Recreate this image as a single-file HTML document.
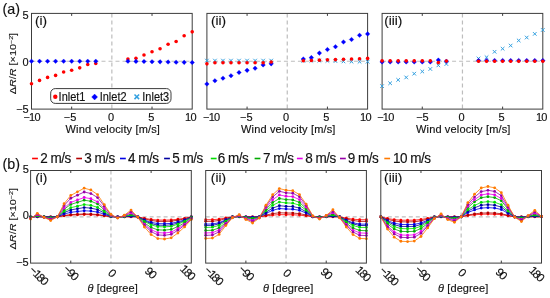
<!DOCTYPE html>
<html><head><meta charset="utf-8"><style>
html,body{margin:0;padding:0;background:#fff;overflow:hidden;}
svg{display:block;font-family:"Liberation Sans", sans-serif;will-change:transform;}
</style></head><body>
<svg width="550" height="298" viewBox="0 0 550 298" fill="#111">
<rect width="550" height="298" fill="#fff"/>
<line x1="111.85" y1="13.40" x2="111.85" y2="109.10" stroke="#bdbdbd" stroke-width="1.2" stroke-dasharray="4 3"/>
<line x1="31.50" y1="61.25" x2="192.20" y2="61.25" stroke="#bdbdbd" stroke-width="1.2" stroke-dasharray="4 3"/>
<rect x="31.50" y="13.40" width="160.70" height="95.70" fill="none" stroke="#3c3c3c" stroke-width="1.0"/>
<line x1="71.67" y1="109.10" x2="71.67" y2="106.60" stroke="#3c3c3c" stroke-width="1.0"/>
<line x1="71.67" y1="13.40" x2="71.67" y2="15.90" stroke="#3c3c3c" stroke-width="1.0"/>
<line x1="152.02" y1="109.10" x2="152.02" y2="106.60" stroke="#3c3c3c" stroke-width="1.0"/>
<line x1="152.02" y1="13.40" x2="152.02" y2="15.90" stroke="#3c3c3c" stroke-width="1.0"/>
<circle cx="31.50" cy="83.74" r="1.8" fill="#ff0000"/>
<circle cx="39.53" cy="80.39" r="1.8" fill="#ff0000"/>
<circle cx="47.57" cy="77.42" r="1.8" fill="#ff0000"/>
<circle cx="55.60" cy="75.41" r="1.8" fill="#ff0000"/>
<circle cx="63.64" cy="72.06" r="1.8" fill="#ff0000"/>
<circle cx="71.67" cy="70.25" r="1.8" fill="#ff0000"/>
<circle cx="79.71" cy="67.85" r="1.8" fill="#ff0000"/>
<circle cx="87.74" cy="64.50" r="1.8" fill="#ff0000"/>
<circle cx="95.78" cy="63.55" r="1.8" fill="#ff0000"/>
<circle cx="127.92" cy="58.95" r="1.8" fill="#ff0000"/>
<circle cx="135.95" cy="58.28" r="1.8" fill="#ff0000"/>
<circle cx="143.99" cy="55.03" r="1.8" fill="#ff0000"/>
<circle cx="152.02" cy="51.78" r="1.8" fill="#ff0000"/>
<circle cx="160.06" cy="48.71" r="1.8" fill="#ff0000"/>
<circle cx="168.09" cy="44.22" r="1.8" fill="#ff0000"/>
<circle cx="176.13" cy="41.44" r="1.8" fill="#ff0000"/>
<circle cx="184.16" cy="35.79" r="1.8" fill="#ff0000"/>
<circle cx="192.20" cy="31.87" r="1.8" fill="#ff0000"/>
<path d="M31.50 58.95L33.80 61.25L31.50 63.55L29.20 61.25Z" fill="#0000ff" stroke="#0000ff" stroke-width="0.3" stroke-linejoin="round"/>
<path d="M39.53 58.95L41.83 61.25L39.53 63.55L37.23 61.25Z" fill="#0000ff" stroke="#0000ff" stroke-width="0.3" stroke-linejoin="round"/>
<path d="M47.57 58.95L49.87 61.25L47.57 63.55L45.27 61.25Z" fill="#0000ff" stroke="#0000ff" stroke-width="0.3" stroke-linejoin="round"/>
<path d="M55.60 58.95L57.90 61.25L55.60 63.55L53.30 61.25Z" fill="#0000ff" stroke="#0000ff" stroke-width="0.3" stroke-linejoin="round"/>
<path d="M63.64 58.95L65.94 61.25L63.64 63.55L61.34 61.25Z" fill="#0000ff" stroke="#0000ff" stroke-width="0.3" stroke-linejoin="round"/>
<path d="M71.67 58.95L73.97 61.25L71.67 63.55L69.38 61.25Z" fill="#0000ff" stroke="#0000ff" stroke-width="0.3" stroke-linejoin="round"/>
<path d="M79.71 58.95L82.01 61.25L79.71 63.55L77.41 61.25Z" fill="#0000ff" stroke="#0000ff" stroke-width="0.3" stroke-linejoin="round"/>
<path d="M87.74 58.95L90.04 61.25L87.74 63.55L85.44 61.25Z" fill="#0000ff" stroke="#0000ff" stroke-width="0.3" stroke-linejoin="round"/>
<path d="M95.78 58.95L98.08 61.25L95.78 63.55L93.48 61.25Z" fill="#0000ff" stroke="#0000ff" stroke-width="0.3" stroke-linejoin="round"/>
<path d="M127.92 58.95L130.22 61.25L127.92 63.55L125.62 61.25Z" fill="#0000ff" stroke="#0000ff" stroke-width="0.3" stroke-linejoin="round"/>
<path d="M135.95 59.11L138.25 61.41L135.95 63.71L133.65 61.41Z" fill="#0000ff" stroke="#0000ff" stroke-width="0.3" stroke-linejoin="round"/>
<path d="M143.99 59.26L146.29 61.56L143.99 63.86L141.69 61.56Z" fill="#0000ff" stroke="#0000ff" stroke-width="0.3" stroke-linejoin="round"/>
<path d="M152.02 59.42L154.32 61.72L152.02 64.02L149.72 61.72Z" fill="#0000ff" stroke="#0000ff" stroke-width="0.3" stroke-linejoin="round"/>
<path d="M160.06 59.57L162.36 61.87L160.06 64.17L157.76 61.87Z" fill="#0000ff" stroke="#0000ff" stroke-width="0.3" stroke-linejoin="round"/>
<path d="M168.09 59.73L170.40 62.03L168.09 64.33L165.79 62.03Z" fill="#0000ff" stroke="#0000ff" stroke-width="0.3" stroke-linejoin="round"/>
<path d="M176.13 59.88L178.43 62.18L176.13 64.48L173.83 62.18Z" fill="#0000ff" stroke="#0000ff" stroke-width="0.3" stroke-linejoin="round"/>
<path d="M184.16 60.04L186.47 62.34L184.16 64.64L181.86 62.34Z" fill="#0000ff" stroke="#0000ff" stroke-width="0.3" stroke-linejoin="round"/>
<path d="M192.20 60.19L194.50 62.49L192.20 64.79L189.90 62.49Z" fill="#0000ff" stroke="#0000ff" stroke-width="0.3" stroke-linejoin="round"/>
<line x1="287.25" y1="13.40" x2="287.25" y2="109.10" stroke="#bdbdbd" stroke-width="1.2" stroke-dasharray="4 3"/>
<line x1="206.90" y1="61.25" x2="367.60" y2="61.25" stroke="#bdbdbd" stroke-width="1.2" stroke-dasharray="4 3"/>
<rect x="206.90" y="13.40" width="160.70" height="95.70" fill="none" stroke="#3c3c3c" stroke-width="1.0"/>
<line x1="247.07" y1="109.10" x2="247.07" y2="106.60" stroke="#3c3c3c" stroke-width="1.0"/>
<line x1="247.07" y1="13.40" x2="247.07" y2="15.90" stroke="#3c3c3c" stroke-width="1.0"/>
<line x1="327.43" y1="109.10" x2="327.43" y2="106.60" stroke="#3c3c3c" stroke-width="1.0"/>
<line x1="327.43" y1="13.40" x2="327.43" y2="15.90" stroke="#3c3c3c" stroke-width="1.0"/>
<path d="M205.10 58.78L208.70 62.38M208.70 58.78L205.10 62.38" stroke="#33a0e0" stroke-width="1.0" fill="none"/>
<path d="M213.13 58.78L216.74 62.38M216.74 58.78L213.13 62.38" stroke="#33a0e0" stroke-width="1.0" fill="none"/>
<path d="M221.17 58.78L224.77 62.38M224.77 58.78L221.17 62.38" stroke="#33a0e0" stroke-width="1.0" fill="none"/>
<path d="M229.20 58.78L232.81 62.38M232.81 58.78L229.20 62.38" stroke="#33a0e0" stroke-width="1.0" fill="none"/>
<path d="M237.24 58.78L240.84 62.38M240.84 58.78L237.24 62.38" stroke="#33a0e0" stroke-width="1.0" fill="none"/>
<path d="M245.27 58.78L248.88 62.38M248.88 58.78L245.27 62.38" stroke="#33a0e0" stroke-width="1.0" fill="none"/>
<path d="M253.31 58.78L256.91 62.38M256.91 58.78L253.31 62.38" stroke="#33a0e0" stroke-width="1.0" fill="none"/>
<path d="M261.34 58.78L264.94 62.38M264.94 58.78L261.34 62.38" stroke="#33a0e0" stroke-width="1.0" fill="none"/>
<path d="M269.38 58.78L272.98 62.38M272.98 58.78L269.38 62.38" stroke="#33a0e0" stroke-width="1.0" fill="none"/>
<path d="M301.52 59.07L305.12 62.67M305.12 59.07L301.52 62.67" stroke="#33a0e0" stroke-width="1.0" fill="none"/>
<path d="M309.56 58.97L313.16 62.57M313.16 58.97L309.56 62.57" stroke="#33a0e0" stroke-width="1.0" fill="none"/>
<path d="M317.59 58.88L321.19 62.48M321.19 58.88L317.59 62.48" stroke="#33a0e0" stroke-width="1.0" fill="none"/>
<path d="M325.62 59.07L329.23 62.67M329.23 59.07L325.62 62.67" stroke="#33a0e0" stroke-width="1.0" fill="none"/>
<path d="M333.66 59.26L337.26 62.86M337.26 59.26L333.66 62.86" stroke="#33a0e0" stroke-width="1.0" fill="none"/>
<path d="M341.69 59.64L345.30 63.24M345.30 59.64L341.69 63.24" stroke="#33a0e0" stroke-width="1.0" fill="none"/>
<path d="M349.73 59.83L353.33 63.43M353.33 59.83L349.73 63.43" stroke="#33a0e0" stroke-width="1.0" fill="none"/>
<path d="M357.76 59.93L361.37 63.53M361.37 59.93L357.76 63.53" stroke="#33a0e0" stroke-width="1.0" fill="none"/>
<path d="M365.80 59.93L369.40 63.53M369.40 59.93L365.80 63.53" stroke="#33a0e0" stroke-width="1.0" fill="none"/>
<path d="M206.90 81.73L209.20 84.03L206.90 86.33L204.60 84.03Z" fill="#0000ff" stroke="#0000ff" stroke-width="0.3" stroke-linejoin="round"/>
<path d="M214.94 78.47L217.24 80.77L214.94 83.07L212.63 80.77Z" fill="#0000ff" stroke="#0000ff" stroke-width="0.3" stroke-linejoin="round"/>
<path d="M222.97 75.89L225.27 78.19L222.97 80.49L220.67 78.19Z" fill="#0000ff" stroke="#0000ff" stroke-width="0.3" stroke-linejoin="round"/>
<path d="M231.00 73.40L233.31 75.70L231.00 78.00L228.70 75.70Z" fill="#0000ff" stroke="#0000ff" stroke-width="0.3" stroke-linejoin="round"/>
<path d="M239.04 70.15L241.34 72.45L239.04 74.75L236.74 72.45Z" fill="#0000ff" stroke="#0000ff" stroke-width="0.3" stroke-linejoin="round"/>
<path d="M247.07 68.04L249.38 70.34L247.07 72.64L244.77 70.34Z" fill="#0000ff" stroke="#0000ff" stroke-width="0.3" stroke-linejoin="round"/>
<path d="M255.11 65.94L257.41 68.24L255.11 70.54L252.81 68.24Z" fill="#0000ff" stroke="#0000ff" stroke-width="0.3" stroke-linejoin="round"/>
<path d="M263.14 62.59L265.44 64.89L263.14 67.19L260.84 64.89Z" fill="#0000ff" stroke="#0000ff" stroke-width="0.3" stroke-linejoin="round"/>
<path d="M271.18 61.53L273.48 63.83L271.18 66.13L268.88 63.83Z" fill="#0000ff" stroke="#0000ff" stroke-width="0.3" stroke-linejoin="round"/>
<path d="M303.32 56.65L305.62 58.95L303.32 61.25L301.02 58.95Z" fill="#0000ff" stroke="#0000ff" stroke-width="0.3" stroke-linejoin="round"/>
<path d="M311.36 55.31L313.66 57.61L311.36 59.91L309.06 57.61Z" fill="#0000ff" stroke="#0000ff" stroke-width="0.3" stroke-linejoin="round"/>
<path d="M319.39 50.82L321.69 53.12L319.39 55.42L317.09 53.12Z" fill="#0000ff" stroke="#0000ff" stroke-width="0.3" stroke-linejoin="round"/>
<path d="M327.43 47.27L329.73 49.57L327.43 51.87L325.12 49.57Z" fill="#0000ff" stroke="#0000ff" stroke-width="0.3" stroke-linejoin="round"/>
<path d="M335.46 44.40L337.76 46.70L335.46 49.00L333.16 46.70Z" fill="#0000ff" stroke="#0000ff" stroke-width="0.3" stroke-linejoin="round"/>
<path d="M343.50 39.71L345.80 42.01L343.50 44.31L341.19 42.01Z" fill="#0000ff" stroke="#0000ff" stroke-width="0.3" stroke-linejoin="round"/>
<path d="M351.53 37.23L353.83 39.53L351.53 41.83L349.23 39.53Z" fill="#0000ff" stroke="#0000ff" stroke-width="0.3" stroke-linejoin="round"/>
<path d="M359.56 33.02L361.87 35.32L359.56 37.62L357.26 35.32Z" fill="#0000ff" stroke="#0000ff" stroke-width="0.3" stroke-linejoin="round"/>
<path d="M367.60 31.58L369.90 33.88L367.60 36.18L365.30 33.88Z" fill="#0000ff" stroke="#0000ff" stroke-width="0.3" stroke-linejoin="round"/>
<circle cx="206.90" cy="63.83" r="1.8" fill="#ff0000"/>
<circle cx="214.94" cy="62.69" r="1.8" fill="#ff0000"/>
<circle cx="222.97" cy="62.69" r="1.8" fill="#ff0000"/>
<circle cx="231.00" cy="62.69" r="1.8" fill="#ff0000"/>
<circle cx="239.04" cy="62.69" r="1.8" fill="#ff0000"/>
<circle cx="247.07" cy="62.69" r="1.8" fill="#ff0000"/>
<circle cx="255.11" cy="62.69" r="1.8" fill="#ff0000"/>
<circle cx="263.14" cy="62.69" r="1.8" fill="#ff0000"/>
<circle cx="271.18" cy="62.02" r="1.8" fill="#ff0000"/>
<circle cx="303.32" cy="60.77" r="1.8" fill="#ff0000"/>
<circle cx="311.36" cy="60.47" r="1.8" fill="#ff0000"/>
<circle cx="319.39" cy="60.17" r="1.8" fill="#ff0000"/>
<circle cx="327.43" cy="59.87" r="1.8" fill="#ff0000"/>
<circle cx="335.46" cy="59.58" r="1.8" fill="#ff0000"/>
<circle cx="343.50" cy="59.28" r="1.8" fill="#ff0000"/>
<circle cx="351.53" cy="58.98" r="1.8" fill="#ff0000"/>
<circle cx="359.56" cy="58.68" r="1.8" fill="#ff0000"/>
<circle cx="367.60" cy="58.38" r="1.8" fill="#ff0000"/>
<line x1="462.45" y1="13.40" x2="462.45" y2="109.10" stroke="#bdbdbd" stroke-width="1.2" stroke-dasharray="4 3"/>
<line x1="382.10" y1="61.25" x2="542.80" y2="61.25" stroke="#bdbdbd" stroke-width="1.2" stroke-dasharray="4 3"/>
<rect x="382.10" y="13.40" width="160.70" height="95.70" fill="none" stroke="#3c3c3c" stroke-width="1.0"/>
<line x1="422.28" y1="109.10" x2="422.28" y2="106.60" stroke="#3c3c3c" stroke-width="1.0"/>
<line x1="422.28" y1="13.40" x2="422.28" y2="15.90" stroke="#3c3c3c" stroke-width="1.0"/>
<line x1="502.62" y1="109.10" x2="502.62" y2="106.60" stroke="#3c3c3c" stroke-width="1.0"/>
<line x1="502.62" y1="13.40" x2="502.62" y2="15.90" stroke="#3c3c3c" stroke-width="1.0"/>
<path d="M380.30 84.33L383.90 87.93M383.90 84.33L380.30 87.93" stroke="#33a0e0" stroke-width="1.0" fill="none"/>
<path d="M388.34 81.46L391.94 85.06M391.94 81.46L388.34 85.06" stroke="#33a0e0" stroke-width="1.0" fill="none"/>
<path d="M396.37 78.11L399.97 81.71M399.97 78.11L396.37 81.71" stroke="#33a0e0" stroke-width="1.0" fill="none"/>
<path d="M404.41 75.62L408.01 79.22M408.01 75.62L404.41 79.22" stroke="#33a0e0" stroke-width="1.0" fill="none"/>
<path d="M412.44 71.89L416.04 75.49M416.04 71.89L412.44 75.49" stroke="#33a0e0" stroke-width="1.0" fill="none"/>
<path d="M420.48 69.69L424.08 73.29M424.08 69.69L420.48 73.29" stroke="#33a0e0" stroke-width="1.0" fill="none"/>
<path d="M428.51 67.20L432.11 70.80M432.11 67.20L428.51 70.80" stroke="#33a0e0" stroke-width="1.0" fill="none"/>
<path d="M436.55 63.57L440.15 67.17M440.15 63.57L436.55 67.17" stroke="#33a0e0" stroke-width="1.0" fill="none"/>
<path d="M444.58 62.23L448.18 65.83M448.18 62.23L444.58 65.83" stroke="#33a0e0" stroke-width="1.0" fill="none"/>
<path d="M476.72 56.67L480.32 60.27M480.32 56.67L476.72 60.27" stroke="#33a0e0" stroke-width="1.0" fill="none"/>
<path d="M484.75 55.43L488.36 59.03M488.36 55.43L484.75 59.03" stroke="#33a0e0" stroke-width="1.0" fill="none"/>
<path d="M492.79 49.98L496.39 53.58M496.39 49.98L492.79 53.58" stroke="#33a0e0" stroke-width="1.0" fill="none"/>
<path d="M500.82 46.91L504.43 50.51M504.43 46.91L500.82 50.51" stroke="#33a0e0" stroke-width="1.0" fill="none"/>
<path d="M508.86 43.76L512.46 47.36M512.46 43.76L508.86 47.36" stroke="#33a0e0" stroke-width="1.0" fill="none"/>
<path d="M516.90 38.68L520.50 42.28M520.50 38.68L516.90 42.28" stroke="#33a0e0" stroke-width="1.0" fill="none"/>
<path d="M524.93 35.72L528.53 39.32M528.53 35.72L524.93 39.32" stroke="#33a0e0" stroke-width="1.0" fill="none"/>
<path d="M532.97 32.08L536.56 35.68M536.56 32.08L532.97 35.68" stroke="#33a0e0" stroke-width="1.0" fill="none"/>
<path d="M541.00 28.16L544.60 31.76M544.60 28.16L541.00 31.76" stroke="#33a0e0" stroke-width="1.0" fill="none"/>
<path d="M382.10 59.62L384.40 61.92L382.10 64.22L379.80 61.92Z" fill="#0000ff" stroke="#0000ff" stroke-width="0.3" stroke-linejoin="round"/>
<path d="M390.14 59.62L392.44 61.92L390.14 64.22L387.84 61.92Z" fill="#0000ff" stroke="#0000ff" stroke-width="0.3" stroke-linejoin="round"/>
<path d="M398.17 59.62L400.47 61.92L398.17 64.22L395.87 61.92Z" fill="#0000ff" stroke="#0000ff" stroke-width="0.3" stroke-linejoin="round"/>
<path d="M406.21 59.62L408.51 61.92L406.21 64.22L403.91 61.92Z" fill="#0000ff" stroke="#0000ff" stroke-width="0.3" stroke-linejoin="round"/>
<path d="M414.24 59.62L416.54 61.92L414.24 64.22L411.94 61.92Z" fill="#0000ff" stroke="#0000ff" stroke-width="0.3" stroke-linejoin="round"/>
<path d="M422.28 59.62L424.58 61.92L422.28 64.22L419.98 61.92Z" fill="#0000ff" stroke="#0000ff" stroke-width="0.3" stroke-linejoin="round"/>
<path d="M430.31 59.62L432.61 61.92L430.31 64.22L428.01 61.92Z" fill="#0000ff" stroke="#0000ff" stroke-width="0.3" stroke-linejoin="round"/>
<path d="M438.35 57.80L440.65 60.10L438.35 62.40L436.05 60.10Z" fill="#0000ff" stroke="#0000ff" stroke-width="0.3" stroke-linejoin="round"/>
<path d="M446.38 58.95L448.68 61.25L446.38 63.55L444.08 61.25Z" fill="#0000ff" stroke="#0000ff" stroke-width="0.3" stroke-linejoin="round"/>
<path d="M478.52 58.18L480.82 60.48L478.52 62.78L476.22 60.48Z" fill="#0000ff" stroke="#0000ff" stroke-width="0.3" stroke-linejoin="round"/>
<path d="M486.56 58.18L488.86 60.48L486.56 62.78L484.25 60.48Z" fill="#0000ff" stroke="#0000ff" stroke-width="0.3" stroke-linejoin="round"/>
<path d="M494.59 58.18L496.89 60.48L494.59 62.78L492.29 60.48Z" fill="#0000ff" stroke="#0000ff" stroke-width="0.3" stroke-linejoin="round"/>
<path d="M502.62 58.18L504.93 60.48L502.62 62.78L500.32 60.48Z" fill="#0000ff" stroke="#0000ff" stroke-width="0.3" stroke-linejoin="round"/>
<path d="M510.66 58.18L512.96 60.48L510.66 62.78L508.36 60.48Z" fill="#0000ff" stroke="#0000ff" stroke-width="0.3" stroke-linejoin="round"/>
<path d="M518.70 58.18L521.00 60.48L518.70 62.78L516.40 60.48Z" fill="#0000ff" stroke="#0000ff" stroke-width="0.3" stroke-linejoin="round"/>
<path d="M526.73 58.18L529.03 60.48L526.73 62.78L524.43 60.48Z" fill="#0000ff" stroke="#0000ff" stroke-width="0.3" stroke-linejoin="round"/>
<path d="M534.76 58.18L537.06 60.48L534.76 62.78L532.47 60.48Z" fill="#0000ff" stroke="#0000ff" stroke-width="0.3" stroke-linejoin="round"/>
<path d="M542.80 58.18L545.10 60.48L542.80 62.78L540.50 60.48Z" fill="#0000ff" stroke="#0000ff" stroke-width="0.3" stroke-linejoin="round"/>
<circle cx="382.10" cy="60.87" r="1.8" fill="#ff0000"/>
<circle cx="390.14" cy="60.87" r="1.8" fill="#ff0000"/>
<circle cx="398.17" cy="60.87" r="1.8" fill="#ff0000"/>
<circle cx="406.21" cy="60.87" r="1.8" fill="#ff0000"/>
<circle cx="414.24" cy="60.87" r="1.8" fill="#ff0000"/>
<circle cx="422.28" cy="60.87" r="1.8" fill="#ff0000"/>
<circle cx="430.31" cy="60.87" r="1.8" fill="#ff0000"/>
<circle cx="438.35" cy="62.59" r="1.8" fill="#ff0000"/>
<circle cx="446.38" cy="61.06" r="1.8" fill="#ff0000"/>
<circle cx="478.52" cy="61.25" r="1.8" fill="#ff0000"/>
<circle cx="486.56" cy="61.25" r="1.8" fill="#ff0000"/>
<circle cx="494.59" cy="61.25" r="1.8" fill="#ff0000"/>
<circle cx="502.62" cy="61.25" r="1.8" fill="#ff0000"/>
<circle cx="510.66" cy="61.25" r="1.8" fill="#ff0000"/>
<circle cx="518.70" cy="61.25" r="1.8" fill="#ff0000"/>
<circle cx="526.73" cy="61.25" r="1.8" fill="#ff0000"/>
<circle cx="534.76" cy="61.25" r="1.8" fill="#ff0000"/>
<circle cx="542.80" cy="61.25" r="1.8" fill="#ff0000"/>
<rect x="50.7" y="88.6" width="120.3" height="14.8" rx="4.5" ry="4.5" fill="#fff" stroke="#3c3c3c" stroke-width="1"/>
<circle cx="55.30" cy="96.70" r="2.2" fill="#ff0000"/>
<path d="M94.60 94.00L97.60 97.00L94.60 100.00L91.60 97.00Z" fill="#0000ff" stroke="#0000ff" stroke-width="0.3" stroke-linejoin="round"/>
<path d="M134.50 94.50L139.10 99.10M139.10 94.50L134.50 99.10" stroke="#33a0e0" stroke-width="1.5" fill="none"/>
<line x1="32.10" y1="158.5" x2="37.90" y2="158.5" stroke="#ff0000" stroke-width="1.6"/>
<line x1="76.20" y1="158.5" x2="82.00" y2="158.5" stroke="#b40000" stroke-width="1.6"/>
<line x1="120.00" y1="158.5" x2="125.80" y2="158.5" stroke="#0000e6" stroke-width="1.6"/>
<line x1="164.10" y1="158.5" x2="169.90" y2="158.5" stroke="#0000a0" stroke-width="1.6"/>
<line x1="210.80" y1="158.5" x2="216.60" y2="158.5" stroke="#00dd00" stroke-width="1.6"/>
<line x1="254.60" y1="158.5" x2="260.40" y2="158.5" stroke="#00aa00" stroke-width="1.6"/>
<line x1="296.90" y1="158.5" x2="302.70" y2="158.5" stroke="#e600e6" stroke-width="1.6"/>
<line x1="340.00" y1="158.5" x2="345.80" y2="158.5" stroke="#9600a8" stroke-width="1.6"/>
<line x1="384.30" y1="158.5" x2="390.10" y2="158.5" stroke="#ff7a00" stroke-width="1.6"/>
<line x1="110.95" y1="170.50" x2="110.95" y2="263.10" stroke="#bdbdbd" stroke-width="1.2" stroke-dasharray="4 3"/>
<line x1="30.60" y1="216.80" x2="191.30" y2="216.80" stroke="#bdbdbd" stroke-width="1.2" stroke-dasharray="4 3"/>
<polyline points="30.60,216.80 37.30,216.80 43.99,216.80 50.69,216.80 57.38,216.80 64.08,215.78 70.78,215.13 77.47,214.85 84.17,214.56 90.86,214.70 97.56,215.06 104.25,215.84 110.95,216.80 117.65,216.80 124.34,216.80 131.04,216.80 137.73,216.80 144.43,218.33 151.12,219.47 157.82,220.06 164.52,220.13 171.21,219.95 177.91,219.23 184.60,218.31 191.30,216.80" fill="none" stroke="#ff0000" stroke-width="0.8"/>
<circle cx="30.60" cy="216.80" r="1.4" fill="#ff0000"/>
<circle cx="37.30" cy="216.80" r="1.4" fill="#ff0000"/>
<circle cx="43.99" cy="216.80" r="1.4" fill="#ff0000"/>
<circle cx="50.69" cy="216.80" r="1.4" fill="#ff0000"/>
<circle cx="57.38" cy="216.80" r="1.4" fill="#ff0000"/>
<circle cx="64.08" cy="215.78" r="1.4" fill="#ff0000"/>
<circle cx="70.78" cy="215.13" r="1.4" fill="#ff0000"/>
<circle cx="77.47" cy="214.85" r="1.4" fill="#ff0000"/>
<circle cx="84.17" cy="214.56" r="1.4" fill="#ff0000"/>
<circle cx="90.86" cy="214.70" r="1.4" fill="#ff0000"/>
<circle cx="97.56" cy="215.06" r="1.4" fill="#ff0000"/>
<circle cx="104.25" cy="215.84" r="1.4" fill="#ff0000"/>
<circle cx="110.95" cy="216.80" r="1.4" fill="#ff0000"/>
<circle cx="117.65" cy="216.80" r="1.4" fill="#ff0000"/>
<circle cx="124.34" cy="216.80" r="1.4" fill="#ff0000"/>
<circle cx="131.04" cy="216.80" r="1.4" fill="#ff0000"/>
<circle cx="137.73" cy="216.80" r="1.4" fill="#ff0000"/>
<circle cx="144.43" cy="218.33" r="1.4" fill="#ff0000"/>
<circle cx="151.12" cy="219.47" r="1.4" fill="#ff0000"/>
<circle cx="157.82" cy="220.06" r="1.4" fill="#ff0000"/>
<circle cx="164.52" cy="220.13" r="1.4" fill="#ff0000"/>
<circle cx="171.21" cy="219.95" r="1.4" fill="#ff0000"/>
<circle cx="177.91" cy="219.23" r="1.4" fill="#ff0000"/>
<circle cx="184.60" cy="218.31" r="1.4" fill="#ff0000"/>
<circle cx="191.30" cy="216.80" r="1.4" fill="#ff0000"/>
<polyline points="30.60,216.83 37.30,216.75 43.99,216.81 50.69,216.86 57.38,216.80 64.08,215.48 70.78,214.64 77.47,214.28 84.17,213.91 90.86,214.09 97.56,214.56 104.25,215.57 110.95,216.76 117.65,216.82 124.34,216.78 131.04,216.69 137.73,216.80 144.43,218.92 151.12,220.50 157.82,221.33 164.52,221.43 171.21,221.18 177.91,220.18 184.60,218.90 191.30,216.84" fill="none" stroke="#b40000" stroke-width="0.8"/>
<circle cx="30.60" cy="216.83" r="1.4" fill="#b40000"/>
<circle cx="37.30" cy="216.75" r="1.4" fill="#b40000"/>
<circle cx="43.99" cy="216.81" r="1.4" fill="#b40000"/>
<circle cx="50.69" cy="216.86" r="1.4" fill="#b40000"/>
<circle cx="57.38" cy="216.80" r="1.4" fill="#b40000"/>
<circle cx="64.08" cy="215.48" r="1.4" fill="#b40000"/>
<circle cx="70.78" cy="214.64" r="1.4" fill="#b40000"/>
<circle cx="77.47" cy="214.28" r="1.4" fill="#b40000"/>
<circle cx="84.17" cy="213.91" r="1.4" fill="#b40000"/>
<circle cx="90.86" cy="214.09" r="1.4" fill="#b40000"/>
<circle cx="97.56" cy="214.56" r="1.4" fill="#b40000"/>
<circle cx="104.25" cy="215.57" r="1.4" fill="#b40000"/>
<circle cx="110.95" cy="216.76" r="1.4" fill="#b40000"/>
<circle cx="117.65" cy="216.82" r="1.4" fill="#b40000"/>
<circle cx="124.34" cy="216.78" r="1.4" fill="#b40000"/>
<circle cx="131.04" cy="216.69" r="1.4" fill="#b40000"/>
<circle cx="137.73" cy="216.80" r="1.4" fill="#b40000"/>
<circle cx="144.43" cy="218.92" r="1.4" fill="#b40000"/>
<circle cx="151.12" cy="220.50" r="1.4" fill="#b40000"/>
<circle cx="157.82" cy="221.33" r="1.4" fill="#b40000"/>
<circle cx="164.52" cy="221.43" r="1.4" fill="#b40000"/>
<circle cx="171.21" cy="221.18" r="1.4" fill="#b40000"/>
<circle cx="177.91" cy="220.18" r="1.4" fill="#b40000"/>
<circle cx="184.60" cy="218.90" r="1.4" fill="#b40000"/>
<circle cx="191.30" cy="216.84" r="1.4" fill="#b40000"/>
<polyline points="30.60,216.94 37.30,216.59 43.99,216.83 50.69,217.04 57.38,216.80 64.08,214.04 70.78,212.27 77.47,211.51 84.17,210.74 90.86,211.11 97.56,212.09 104.25,214.21 110.95,216.65 117.65,216.88 124.34,216.70 131.04,216.38 137.73,216.82 144.43,219.98 151.12,222.36 157.82,223.60 164.52,223.75 171.21,223.37 177.91,221.86 184.60,219.95 191.30,216.97" fill="none" stroke="#0000e6" stroke-width="0.8"/>
<circle cx="30.60" cy="216.94" r="1.4" fill="#0000e6"/>
<circle cx="37.30" cy="216.59" r="1.4" fill="#0000e6"/>
<circle cx="43.99" cy="216.83" r="1.4" fill="#0000e6"/>
<circle cx="50.69" cy="217.04" r="1.4" fill="#0000e6"/>
<circle cx="57.38" cy="216.80" r="1.4" fill="#0000e6"/>
<circle cx="64.08" cy="214.04" r="1.4" fill="#0000e6"/>
<circle cx="70.78" cy="212.27" r="1.4" fill="#0000e6"/>
<circle cx="77.47" cy="211.51" r="1.4" fill="#0000e6"/>
<circle cx="84.17" cy="210.74" r="1.4" fill="#0000e6"/>
<circle cx="90.86" cy="211.11" r="1.4" fill="#0000e6"/>
<circle cx="97.56" cy="212.09" r="1.4" fill="#0000e6"/>
<circle cx="104.25" cy="214.21" r="1.4" fill="#0000e6"/>
<circle cx="110.95" cy="216.65" r="1.4" fill="#0000e6"/>
<circle cx="117.65" cy="216.88" r="1.4" fill="#0000e6"/>
<circle cx="124.34" cy="216.70" r="1.4" fill="#0000e6"/>
<circle cx="131.04" cy="216.38" r="1.4" fill="#0000e6"/>
<circle cx="137.73" cy="216.82" r="1.4" fill="#0000e6"/>
<circle cx="144.43" cy="219.98" r="1.4" fill="#0000e6"/>
<circle cx="151.12" cy="222.36" r="1.4" fill="#0000e6"/>
<circle cx="157.82" cy="223.60" r="1.4" fill="#0000e6"/>
<circle cx="164.52" cy="223.75" r="1.4" fill="#0000e6"/>
<circle cx="171.21" cy="223.37" r="1.4" fill="#0000e6"/>
<circle cx="177.91" cy="221.86" r="1.4" fill="#0000e6"/>
<circle cx="184.60" cy="219.95" r="1.4" fill="#0000e6"/>
<circle cx="191.30" cy="216.97" r="1.4" fill="#0000e6"/>
<polyline points="30.60,217.11 37.30,216.32 43.99,216.88 50.69,217.33 57.38,216.80 64.08,212.59 70.78,209.90 77.47,208.74 84.17,207.57 90.86,208.14 97.56,209.63 104.25,212.86 110.95,216.46 117.65,216.98 124.34,216.58 131.04,215.85 137.73,216.84 144.43,220.70 151.12,223.62 157.82,225.14 164.52,225.32 171.21,224.86 177.91,223.01 184.60,220.67 191.30,217.19" fill="none" stroke="#0000a0" stroke-width="0.8"/>
<circle cx="30.60" cy="217.11" r="1.4" fill="#0000a0"/>
<circle cx="37.30" cy="216.32" r="1.4" fill="#0000a0"/>
<circle cx="43.99" cy="216.88" r="1.4" fill="#0000a0"/>
<circle cx="50.69" cy="217.33" r="1.4" fill="#0000a0"/>
<circle cx="57.38" cy="216.80" r="1.4" fill="#0000a0"/>
<circle cx="64.08" cy="212.59" r="1.4" fill="#0000a0"/>
<circle cx="70.78" cy="209.90" r="1.4" fill="#0000a0"/>
<circle cx="77.47" cy="208.74" r="1.4" fill="#0000a0"/>
<circle cx="84.17" cy="207.57" r="1.4" fill="#0000a0"/>
<circle cx="90.86" cy="208.14" r="1.4" fill="#0000a0"/>
<circle cx="97.56" cy="209.63" r="1.4" fill="#0000a0"/>
<circle cx="104.25" cy="212.86" r="1.4" fill="#0000a0"/>
<circle cx="110.95" cy="216.46" r="1.4" fill="#0000a0"/>
<circle cx="117.65" cy="216.98" r="1.4" fill="#0000a0"/>
<circle cx="124.34" cy="216.58" r="1.4" fill="#0000a0"/>
<circle cx="131.04" cy="215.85" r="1.4" fill="#0000a0"/>
<circle cx="137.73" cy="216.84" r="1.4" fill="#0000a0"/>
<circle cx="144.43" cy="220.70" r="1.4" fill="#0000a0"/>
<circle cx="151.12" cy="223.62" r="1.4" fill="#0000a0"/>
<circle cx="157.82" cy="225.14" r="1.4" fill="#0000a0"/>
<circle cx="164.52" cy="225.32" r="1.4" fill="#0000a0"/>
<circle cx="171.21" cy="224.86" r="1.4" fill="#0000a0"/>
<circle cx="177.91" cy="223.01" r="1.4" fill="#0000a0"/>
<circle cx="184.60" cy="220.67" r="1.4" fill="#0000a0"/>
<circle cx="191.30" cy="217.19" r="1.4" fill="#0000a0"/>
<polyline points="30.60,217.36 37.30,215.94 43.99,216.94 50.69,217.75 57.38,216.80 64.08,211.23 70.78,207.67 77.47,206.13 84.17,204.59 90.86,205.34 97.56,207.32 104.25,211.58 110.95,216.20 117.65,217.12 124.34,216.41 131.04,215.11 137.73,216.87 144.43,221.43 151.12,224.87 157.82,226.68 164.52,226.89 171.21,226.35 177.91,224.16 184.60,221.38 191.30,217.49" fill="none" stroke="#00dd00" stroke-width="0.8"/>
<circle cx="30.60" cy="217.36" r="1.4" fill="#00dd00"/>
<circle cx="37.30" cy="215.94" r="1.4" fill="#00dd00"/>
<circle cx="43.99" cy="216.94" r="1.4" fill="#00dd00"/>
<circle cx="50.69" cy="217.75" r="1.4" fill="#00dd00"/>
<circle cx="57.38" cy="216.80" r="1.4" fill="#00dd00"/>
<circle cx="64.08" cy="211.23" r="1.4" fill="#00dd00"/>
<circle cx="70.78" cy="207.67" r="1.4" fill="#00dd00"/>
<circle cx="77.47" cy="206.13" r="1.4" fill="#00dd00"/>
<circle cx="84.17" cy="204.59" r="1.4" fill="#00dd00"/>
<circle cx="90.86" cy="205.34" r="1.4" fill="#00dd00"/>
<circle cx="97.56" cy="207.32" r="1.4" fill="#00dd00"/>
<circle cx="104.25" cy="211.58" r="1.4" fill="#00dd00"/>
<circle cx="110.95" cy="216.20" r="1.4" fill="#00dd00"/>
<circle cx="117.65" cy="217.12" r="1.4" fill="#00dd00"/>
<circle cx="124.34" cy="216.41" r="1.4" fill="#00dd00"/>
<circle cx="131.04" cy="215.11" r="1.4" fill="#00dd00"/>
<circle cx="137.73" cy="216.87" r="1.4" fill="#00dd00"/>
<circle cx="144.43" cy="221.43" r="1.4" fill="#00dd00"/>
<circle cx="151.12" cy="224.87" r="1.4" fill="#00dd00"/>
<circle cx="157.82" cy="226.68" r="1.4" fill="#00dd00"/>
<circle cx="164.52" cy="226.89" r="1.4" fill="#00dd00"/>
<circle cx="171.21" cy="226.35" r="1.4" fill="#00dd00"/>
<circle cx="177.91" cy="224.16" r="1.4" fill="#00dd00"/>
<circle cx="184.60" cy="221.38" r="1.4" fill="#00dd00"/>
<circle cx="191.30" cy="217.49" r="1.4" fill="#00dd00"/>
<polyline points="30.60,217.67 37.30,215.46 43.99,217.02 50.69,218.28 57.38,216.80 64.08,209.23 70.78,204.40 77.47,202.30 84.17,200.21 90.86,201.23 97.56,203.91 104.25,209.71 110.95,215.86 117.65,217.31 124.34,216.19 131.04,214.16 137.73,216.91 144.43,222.91 151.12,227.47 157.82,229.86 164.52,230.13 171.21,229.41 177.91,226.52 184.60,222.86 191.30,217.89" fill="none" stroke="#00aa00" stroke-width="0.8"/>
<circle cx="30.60" cy="217.67" r="1.4" fill="#00aa00"/>
<circle cx="37.30" cy="215.46" r="1.4" fill="#00aa00"/>
<circle cx="43.99" cy="217.02" r="1.4" fill="#00aa00"/>
<circle cx="50.69" cy="218.28" r="1.4" fill="#00aa00"/>
<circle cx="57.38" cy="216.80" r="1.4" fill="#00aa00"/>
<circle cx="64.08" cy="209.23" r="1.4" fill="#00aa00"/>
<circle cx="70.78" cy="204.40" r="1.4" fill="#00aa00"/>
<circle cx="77.47" cy="202.30" r="1.4" fill="#00aa00"/>
<circle cx="84.17" cy="200.21" r="1.4" fill="#00aa00"/>
<circle cx="90.86" cy="201.23" r="1.4" fill="#00aa00"/>
<circle cx="97.56" cy="203.91" r="1.4" fill="#00aa00"/>
<circle cx="104.25" cy="209.71" r="1.4" fill="#00aa00"/>
<circle cx="110.95" cy="215.86" r="1.4" fill="#00aa00"/>
<circle cx="117.65" cy="217.31" r="1.4" fill="#00aa00"/>
<circle cx="124.34" cy="216.19" r="1.4" fill="#00aa00"/>
<circle cx="131.04" cy="214.16" r="1.4" fill="#00aa00"/>
<circle cx="137.73" cy="216.91" r="1.4" fill="#00aa00"/>
<circle cx="144.43" cy="222.91" r="1.4" fill="#00aa00"/>
<circle cx="151.12" cy="227.47" r="1.4" fill="#00aa00"/>
<circle cx="157.82" cy="229.86" r="1.4" fill="#00aa00"/>
<circle cx="164.52" cy="230.13" r="1.4" fill="#00aa00"/>
<circle cx="171.21" cy="229.41" r="1.4" fill="#00aa00"/>
<circle cx="177.91" cy="226.52" r="1.4" fill="#00aa00"/>
<circle cx="184.60" cy="222.86" r="1.4" fill="#00aa00"/>
<circle cx="191.30" cy="217.89" r="1.4" fill="#00aa00"/>
<polyline points="30.60,218.05 37.30,214.87 43.99,217.11 50.69,218.94 57.38,216.80 64.08,208.00 70.78,202.38 77.47,199.94 84.17,197.51 90.86,198.69 97.56,201.82 104.25,208.56 110.95,215.45 117.65,217.53 124.34,215.91 131.04,213.00 137.73,216.96 144.43,224.23 151.12,229.76 157.82,232.67 164.52,233.01 171.21,232.13 177.91,228.62 184.60,224.16 191.30,218.36" fill="none" stroke="#e600e6" stroke-width="0.8"/>
<circle cx="30.60" cy="218.05" r="1.4" fill="#e600e6"/>
<circle cx="37.30" cy="214.87" r="1.4" fill="#e600e6"/>
<circle cx="43.99" cy="217.11" r="1.4" fill="#e600e6"/>
<circle cx="50.69" cy="218.94" r="1.4" fill="#e600e6"/>
<circle cx="57.38" cy="216.80" r="1.4" fill="#e600e6"/>
<circle cx="64.08" cy="208.00" r="1.4" fill="#e600e6"/>
<circle cx="70.78" cy="202.38" r="1.4" fill="#e600e6"/>
<circle cx="77.47" cy="199.94" r="1.4" fill="#e600e6"/>
<circle cx="84.17" cy="197.51" r="1.4" fill="#e600e6"/>
<circle cx="90.86" cy="198.69" r="1.4" fill="#e600e6"/>
<circle cx="97.56" cy="201.82" r="1.4" fill="#e600e6"/>
<circle cx="104.25" cy="208.56" r="1.4" fill="#e600e6"/>
<circle cx="110.95" cy="215.45" r="1.4" fill="#e600e6"/>
<circle cx="117.65" cy="217.53" r="1.4" fill="#e600e6"/>
<circle cx="124.34" cy="215.91" r="1.4" fill="#e600e6"/>
<circle cx="131.04" cy="213.00" r="1.4" fill="#e600e6"/>
<circle cx="137.73" cy="216.96" r="1.4" fill="#e600e6"/>
<circle cx="144.43" cy="224.23" r="1.4" fill="#e600e6"/>
<circle cx="151.12" cy="229.76" r="1.4" fill="#e600e6"/>
<circle cx="157.82" cy="232.67" r="1.4" fill="#e600e6"/>
<circle cx="164.52" cy="233.01" r="1.4" fill="#e600e6"/>
<circle cx="171.21" cy="232.13" r="1.4" fill="#e600e6"/>
<circle cx="177.91" cy="228.62" r="1.4" fill="#e600e6"/>
<circle cx="184.60" cy="224.16" r="1.4" fill="#e600e6"/>
<circle cx="191.30" cy="218.36" r="1.4" fill="#e600e6"/>
<polyline points="30.60,218.50 37.30,214.18 43.99,217.23 50.69,219.71 57.38,216.80 64.08,205.49 70.78,198.27 77.47,195.14 84.17,192.01 90.86,193.53 97.56,197.54 104.25,206.21 110.95,214.96 117.65,217.79 124.34,215.59 131.04,211.62 137.73,217.01 144.43,225.29 151.12,231.62 157.82,234.93 164.52,235.32 171.21,234.32 177.91,230.30 184.60,225.21 191.30,218.93" fill="none" stroke="#9600a8" stroke-width="0.8"/>
<circle cx="30.60" cy="218.50" r="1.4" fill="#9600a8"/>
<circle cx="37.30" cy="214.18" r="1.4" fill="#9600a8"/>
<circle cx="43.99" cy="217.23" r="1.4" fill="#9600a8"/>
<circle cx="50.69" cy="219.71" r="1.4" fill="#9600a8"/>
<circle cx="57.38" cy="216.80" r="1.4" fill="#9600a8"/>
<circle cx="64.08" cy="205.49" r="1.4" fill="#9600a8"/>
<circle cx="70.78" cy="198.27" r="1.4" fill="#9600a8"/>
<circle cx="77.47" cy="195.14" r="1.4" fill="#9600a8"/>
<circle cx="84.17" cy="192.01" r="1.4" fill="#9600a8"/>
<circle cx="90.86" cy="193.53" r="1.4" fill="#9600a8"/>
<circle cx="97.56" cy="197.54" r="1.4" fill="#9600a8"/>
<circle cx="104.25" cy="206.21" r="1.4" fill="#9600a8"/>
<circle cx="110.95" cy="214.96" r="1.4" fill="#9600a8"/>
<circle cx="117.65" cy="217.79" r="1.4" fill="#9600a8"/>
<circle cx="124.34" cy="215.59" r="1.4" fill="#9600a8"/>
<circle cx="131.04" cy="211.62" r="1.4" fill="#9600a8"/>
<circle cx="137.73" cy="217.01" r="1.4" fill="#9600a8"/>
<circle cx="144.43" cy="225.29" r="1.4" fill="#9600a8"/>
<circle cx="151.12" cy="231.62" r="1.4" fill="#9600a8"/>
<circle cx="157.82" cy="234.93" r="1.4" fill="#9600a8"/>
<circle cx="164.52" cy="235.32" r="1.4" fill="#9600a8"/>
<circle cx="171.21" cy="234.32" r="1.4" fill="#9600a8"/>
<circle cx="177.91" cy="230.30" r="1.4" fill="#9600a8"/>
<circle cx="184.60" cy="225.21" r="1.4" fill="#9600a8"/>
<circle cx="191.30" cy="218.93" r="1.4" fill="#9600a8"/>
<polyline points="30.60,219.02 37.30,213.37 43.99,217.36 50.69,220.60 57.38,216.80 64.08,203.74 70.78,195.41 77.47,191.80 84.17,188.19 90.86,189.95 97.56,194.58 104.25,204.58 110.95,214.39 117.65,218.10 124.34,215.23 131.04,210.04 137.73,217.08 144.43,226.99 151.12,234.58 157.82,238.56 164.52,239.02 171.21,237.82 177.91,233.01 184.60,226.89 191.30,219.58" fill="none" stroke="#ff7a00" stroke-width="0.8"/>
<circle cx="30.60" cy="219.02" r="1.4" fill="#ff7a00"/>
<circle cx="37.30" cy="213.37" r="1.4" fill="#ff7a00"/>
<circle cx="43.99" cy="217.36" r="1.4" fill="#ff7a00"/>
<circle cx="50.69" cy="220.60" r="1.4" fill="#ff7a00"/>
<circle cx="57.38" cy="216.80" r="1.4" fill="#ff7a00"/>
<circle cx="64.08" cy="203.74" r="1.4" fill="#ff7a00"/>
<circle cx="70.78" cy="195.41" r="1.4" fill="#ff7a00"/>
<circle cx="77.47" cy="191.80" r="1.4" fill="#ff7a00"/>
<circle cx="84.17" cy="188.19" r="1.4" fill="#ff7a00"/>
<circle cx="90.86" cy="189.95" r="1.4" fill="#ff7a00"/>
<circle cx="97.56" cy="194.58" r="1.4" fill="#ff7a00"/>
<circle cx="104.25" cy="204.58" r="1.4" fill="#ff7a00"/>
<circle cx="110.95" cy="214.39" r="1.4" fill="#ff7a00"/>
<circle cx="117.65" cy="218.10" r="1.4" fill="#ff7a00"/>
<circle cx="124.34" cy="215.23" r="1.4" fill="#ff7a00"/>
<circle cx="131.04" cy="210.04" r="1.4" fill="#ff7a00"/>
<circle cx="137.73" cy="217.08" r="1.4" fill="#ff7a00"/>
<circle cx="144.43" cy="226.99" r="1.4" fill="#ff7a00"/>
<circle cx="151.12" cy="234.58" r="1.4" fill="#ff7a00"/>
<circle cx="157.82" cy="238.56" r="1.4" fill="#ff7a00"/>
<circle cx="164.52" cy="239.02" r="1.4" fill="#ff7a00"/>
<circle cx="171.21" cy="237.82" r="1.4" fill="#ff7a00"/>
<circle cx="177.91" cy="233.01" r="1.4" fill="#ff7a00"/>
<circle cx="184.60" cy="226.89" r="1.4" fill="#ff7a00"/>
<circle cx="191.30" cy="219.58" r="1.4" fill="#ff7a00"/>
<rect x="30.60" y="170.50" width="160.70" height="92.60" fill="none" stroke="#3c3c3c" stroke-width="1.0"/>
<line x1="70.78" y1="263.10" x2="70.78" y2="260.60" stroke="#3c3c3c" stroke-width="1.0"/>
<line x1="70.78" y1="170.50" x2="70.78" y2="173.00" stroke="#3c3c3c" stroke-width="1.0"/>
<line x1="151.12" y1="263.10" x2="151.12" y2="260.60" stroke="#3c3c3c" stroke-width="1.0"/>
<line x1="151.12" y1="170.50" x2="151.12" y2="173.00" stroke="#3c3c3c" stroke-width="1.0"/>
<line x1="286.05" y1="170.50" x2="286.05" y2="263.10" stroke="#bdbdbd" stroke-width="1.2" stroke-dasharray="4 3"/>
<line x1="205.70" y1="216.80" x2="366.40" y2="216.80" stroke="#bdbdbd" stroke-width="1.2" stroke-dasharray="4 3"/>
<polyline points="205.70,219.73 212.40,219.68 219.09,219.18 225.79,217.99 232.48,216.80 239.18,216.80 245.88,216.80 252.57,216.80 259.27,216.80 265.96,215.91 272.66,215.11 279.35,214.64 286.05,214.76 292.75,214.80 299.44,215.10 306.14,215.83 312.83,216.80 319.53,216.80 326.22,216.80 332.92,216.80 339.62,216.80 346.31,218.18 353.01,219.20 359.70,219.71 366.40,219.76" fill="none" stroke="#ff0000" stroke-width="0.8"/>
<circle cx="205.70" cy="219.73" r="1.4" fill="#ff0000"/>
<circle cx="212.40" cy="219.68" r="1.4" fill="#ff0000"/>
<circle cx="219.09" cy="219.18" r="1.4" fill="#ff0000"/>
<circle cx="225.79" cy="217.99" r="1.4" fill="#ff0000"/>
<circle cx="232.48" cy="216.80" r="1.4" fill="#ff0000"/>
<circle cx="239.18" cy="216.80" r="1.4" fill="#ff0000"/>
<circle cx="245.88" cy="216.80" r="1.4" fill="#ff0000"/>
<circle cx="252.57" cy="216.80" r="1.4" fill="#ff0000"/>
<circle cx="259.27" cy="216.80" r="1.4" fill="#ff0000"/>
<circle cx="265.96" cy="215.91" r="1.4" fill="#ff0000"/>
<circle cx="272.66" cy="215.11" r="1.4" fill="#ff0000"/>
<circle cx="279.35" cy="214.64" r="1.4" fill="#ff0000"/>
<circle cx="286.05" cy="214.76" r="1.4" fill="#ff0000"/>
<circle cx="292.75" cy="214.80" r="1.4" fill="#ff0000"/>
<circle cx="299.44" cy="215.10" r="1.4" fill="#ff0000"/>
<circle cx="306.14" cy="215.83" r="1.4" fill="#ff0000"/>
<circle cx="312.83" cy="216.80" r="1.4" fill="#ff0000"/>
<circle cx="319.53" cy="216.80" r="1.4" fill="#ff0000"/>
<circle cx="326.22" cy="216.80" r="1.4" fill="#ff0000"/>
<circle cx="332.92" cy="216.80" r="1.4" fill="#ff0000"/>
<circle cx="339.62" cy="216.80" r="1.4" fill="#ff0000"/>
<circle cx="346.31" cy="218.18" r="1.4" fill="#ff0000"/>
<circle cx="353.01" cy="219.20" r="1.4" fill="#ff0000"/>
<circle cx="359.70" cy="219.71" r="1.4" fill="#ff0000"/>
<circle cx="366.40" cy="219.76" r="1.4" fill="#ff0000"/>
<polyline points="205.70,221.37 212.40,221.29 219.09,220.51 225.79,218.66 232.48,216.81 239.18,216.77 245.88,216.84 252.57,216.90 259.27,216.82 265.96,215.15 272.66,213.65 279.35,212.77 286.05,213.00 292.75,213.07 299.44,213.63 306.14,214.99 312.83,216.79 319.53,216.83 326.22,216.78 332.92,216.69 339.62,216.81 346.31,218.95 353.01,220.55 359.70,221.35 366.40,221.43" fill="none" stroke="#b40000" stroke-width="0.8"/>
<circle cx="205.70" cy="221.37" r="1.4" fill="#b40000"/>
<circle cx="212.40" cy="221.29" r="1.4" fill="#b40000"/>
<circle cx="219.09" cy="220.51" r="1.4" fill="#b40000"/>
<circle cx="225.79" cy="218.66" r="1.4" fill="#b40000"/>
<circle cx="232.48" cy="216.81" r="1.4" fill="#b40000"/>
<circle cx="239.18" cy="216.77" r="1.4" fill="#b40000"/>
<circle cx="245.88" cy="216.84" r="1.4" fill="#b40000"/>
<circle cx="252.57" cy="216.90" r="1.4" fill="#b40000"/>
<circle cx="259.27" cy="216.82" r="1.4" fill="#b40000"/>
<circle cx="265.96" cy="215.15" r="1.4" fill="#b40000"/>
<circle cx="272.66" cy="213.65" r="1.4" fill="#b40000"/>
<circle cx="279.35" cy="212.77" r="1.4" fill="#b40000"/>
<circle cx="286.05" cy="213.00" r="1.4" fill="#b40000"/>
<circle cx="292.75" cy="213.07" r="1.4" fill="#b40000"/>
<circle cx="299.44" cy="213.63" r="1.4" fill="#b40000"/>
<circle cx="306.14" cy="214.99" r="1.4" fill="#b40000"/>
<circle cx="312.83" cy="216.79" r="1.4" fill="#b40000"/>
<circle cx="319.53" cy="216.83" r="1.4" fill="#b40000"/>
<circle cx="326.22" cy="216.78" r="1.4" fill="#b40000"/>
<circle cx="332.92" cy="216.69" r="1.4" fill="#b40000"/>
<circle cx="339.62" cy="216.81" r="1.4" fill="#b40000"/>
<circle cx="346.31" cy="218.95" r="1.4" fill="#b40000"/>
<circle cx="353.01" cy="220.55" r="1.4" fill="#b40000"/>
<circle cx="359.70" cy="221.35" r="1.4" fill="#b40000"/>
<circle cx="366.40" cy="221.43" r="1.4" fill="#b40000"/>
<polyline points="205.70,224.11 212.40,223.99 219.09,222.74 225.79,219.77 232.48,216.86 239.18,216.67 245.88,216.97 252.57,217.19 259.27,216.88 265.96,213.41 272.66,210.35 279.35,208.53 286.05,209.02 292.75,209.16 299.44,210.30 306.14,213.09 312.83,216.74 319.53,216.94 326.22,216.71 332.92,216.36 339.62,216.86 346.31,220.24 353.01,222.80 359.70,224.08 366.40,224.21" fill="none" stroke="#0000e6" stroke-width="0.8"/>
<circle cx="205.70" cy="224.11" r="1.4" fill="#0000e6"/>
<circle cx="212.40" cy="223.99" r="1.4" fill="#0000e6"/>
<circle cx="219.09" cy="222.74" r="1.4" fill="#0000e6"/>
<circle cx="225.79" cy="219.77" r="1.4" fill="#0000e6"/>
<circle cx="232.48" cy="216.86" r="1.4" fill="#0000e6"/>
<circle cx="239.18" cy="216.67" r="1.4" fill="#0000e6"/>
<circle cx="245.88" cy="216.97" r="1.4" fill="#0000e6"/>
<circle cx="252.57" cy="217.19" r="1.4" fill="#0000e6"/>
<circle cx="259.27" cy="216.88" r="1.4" fill="#0000e6"/>
<circle cx="265.96" cy="213.41" r="1.4" fill="#0000e6"/>
<circle cx="272.66" cy="210.35" r="1.4" fill="#0000e6"/>
<circle cx="279.35" cy="208.53" r="1.4" fill="#0000e6"/>
<circle cx="286.05" cy="209.02" r="1.4" fill="#0000e6"/>
<circle cx="292.75" cy="209.16" r="1.4" fill="#0000e6"/>
<circle cx="299.44" cy="210.30" r="1.4" fill="#0000e6"/>
<circle cx="306.14" cy="213.09" r="1.4" fill="#0000e6"/>
<circle cx="312.83" cy="216.74" r="1.4" fill="#0000e6"/>
<circle cx="319.53" cy="216.94" r="1.4" fill="#0000e6"/>
<circle cx="326.22" cy="216.71" r="1.4" fill="#0000e6"/>
<circle cx="332.92" cy="216.36" r="1.4" fill="#0000e6"/>
<circle cx="339.62" cy="216.86" r="1.4" fill="#0000e6"/>
<circle cx="346.31" cy="220.24" r="1.4" fill="#0000e6"/>
<circle cx="353.01" cy="222.80" r="1.4" fill="#0000e6"/>
<circle cx="359.70" cy="224.08" r="1.4" fill="#0000e6"/>
<circle cx="366.40" cy="224.21" r="1.4" fill="#0000e6"/>
<polyline points="205.70,225.49 212.40,225.34 219.09,223.85 225.79,220.33 232.48,216.93 239.18,216.50 245.88,217.18 252.57,217.67 259.27,216.98 265.96,212.24 272.66,208.12 279.35,205.68 286.05,206.34 292.75,206.52 299.44,208.05 306.14,211.81 312.83,216.67 319.53,217.11 326.22,216.60 332.92,215.81 339.62,216.93 346.31,220.88 353.01,223.93 359.70,225.45 366.40,225.60" fill="none" stroke="#0000a0" stroke-width="0.8"/>
<circle cx="205.70" cy="225.49" r="1.4" fill="#0000a0"/>
<circle cx="212.40" cy="225.34" r="1.4" fill="#0000a0"/>
<circle cx="219.09" cy="223.85" r="1.4" fill="#0000a0"/>
<circle cx="225.79" cy="220.33" r="1.4" fill="#0000a0"/>
<circle cx="232.48" cy="216.93" r="1.4" fill="#0000a0"/>
<circle cx="239.18" cy="216.50" r="1.4" fill="#0000a0"/>
<circle cx="245.88" cy="217.18" r="1.4" fill="#0000a0"/>
<circle cx="252.57" cy="217.67" r="1.4" fill="#0000a0"/>
<circle cx="259.27" cy="216.98" r="1.4" fill="#0000a0"/>
<circle cx="265.96" cy="212.24" r="1.4" fill="#0000a0"/>
<circle cx="272.66" cy="208.12" r="1.4" fill="#0000a0"/>
<circle cx="279.35" cy="205.68" r="1.4" fill="#0000a0"/>
<circle cx="286.05" cy="206.34" r="1.4" fill="#0000a0"/>
<circle cx="292.75" cy="206.52" r="1.4" fill="#0000a0"/>
<circle cx="299.44" cy="208.05" r="1.4" fill="#0000a0"/>
<circle cx="306.14" cy="211.81" r="1.4" fill="#0000a0"/>
<circle cx="312.83" cy="216.67" r="1.4" fill="#0000a0"/>
<circle cx="319.53" cy="217.11" r="1.4" fill="#0000a0"/>
<circle cx="326.22" cy="216.60" r="1.4" fill="#0000a0"/>
<circle cx="332.92" cy="215.81" r="1.4" fill="#0000a0"/>
<circle cx="339.62" cy="216.93" r="1.4" fill="#0000a0"/>
<circle cx="346.31" cy="220.88" r="1.4" fill="#0000a0"/>
<circle cx="353.01" cy="223.93" r="1.4" fill="#0000a0"/>
<circle cx="359.70" cy="225.45" r="1.4" fill="#0000a0"/>
<circle cx="366.40" cy="225.60" r="1.4" fill="#0000a0"/>
<polyline points="205.70,227.41 212.40,227.22 219.09,225.41 225.79,221.11 232.48,217.03 239.18,216.27 245.88,217.47 252.57,218.35 259.27,217.12 265.96,210.75 272.66,205.28 279.35,202.04 286.05,202.91 292.75,203.15 299.44,205.18 306.14,210.17 312.83,216.57 319.53,217.36 326.22,216.45 332.92,215.04 339.62,217.03 346.31,221.79 353.01,225.50 359.70,227.36 366.40,227.54" fill="none" stroke="#00dd00" stroke-width="0.8"/>
<circle cx="205.70" cy="227.41" r="1.4" fill="#00dd00"/>
<circle cx="212.40" cy="227.22" r="1.4" fill="#00dd00"/>
<circle cx="219.09" cy="225.41" r="1.4" fill="#00dd00"/>
<circle cx="225.79" cy="221.11" r="1.4" fill="#00dd00"/>
<circle cx="232.48" cy="217.03" r="1.4" fill="#00dd00"/>
<circle cx="239.18" cy="216.27" r="1.4" fill="#00dd00"/>
<circle cx="245.88" cy="217.47" r="1.4" fill="#00dd00"/>
<circle cx="252.57" cy="218.35" r="1.4" fill="#00dd00"/>
<circle cx="259.27" cy="217.12" r="1.4" fill="#00dd00"/>
<circle cx="265.96" cy="210.75" r="1.4" fill="#00dd00"/>
<circle cx="272.66" cy="205.28" r="1.4" fill="#00dd00"/>
<circle cx="279.35" cy="202.04" r="1.4" fill="#00dd00"/>
<circle cx="286.05" cy="202.91" r="1.4" fill="#00dd00"/>
<circle cx="292.75" cy="203.15" r="1.4" fill="#00dd00"/>
<circle cx="299.44" cy="205.18" r="1.4" fill="#00dd00"/>
<circle cx="306.14" cy="210.17" r="1.4" fill="#00dd00"/>
<circle cx="312.83" cy="216.57" r="1.4" fill="#00dd00"/>
<circle cx="319.53" cy="217.36" r="1.4" fill="#00dd00"/>
<circle cx="326.22" cy="216.45" r="1.4" fill="#00dd00"/>
<circle cx="332.92" cy="215.04" r="1.4" fill="#00dd00"/>
<circle cx="339.62" cy="217.03" r="1.4" fill="#00dd00"/>
<circle cx="346.31" cy="221.79" r="1.4" fill="#00dd00"/>
<circle cx="353.01" cy="225.50" r="1.4" fill="#00dd00"/>
<circle cx="359.70" cy="227.36" r="1.4" fill="#00dd00"/>
<circle cx="366.40" cy="227.54" r="1.4" fill="#00dd00"/>
<polyline points="205.70,230.51 212.40,230.28 219.09,227.94 225.79,222.37 232.48,217.16 239.18,215.97 245.88,217.85 252.57,219.22 259.27,217.31 265.96,209.30 272.66,202.52 279.35,198.50 286.05,199.58 292.75,199.88 299.44,202.40 306.14,208.58 312.83,216.44 319.53,217.67 326.22,216.26 332.92,214.05 339.62,217.16 346.31,223.25 353.01,228.05 359.70,230.46 366.40,230.69" fill="none" stroke="#00aa00" stroke-width="0.8"/>
<circle cx="205.70" cy="230.51" r="1.4" fill="#00aa00"/>
<circle cx="212.40" cy="230.28" r="1.4" fill="#00aa00"/>
<circle cx="219.09" cy="227.94" r="1.4" fill="#00aa00"/>
<circle cx="225.79" cy="222.37" r="1.4" fill="#00aa00"/>
<circle cx="232.48" cy="217.16" r="1.4" fill="#00aa00"/>
<circle cx="239.18" cy="215.97" r="1.4" fill="#00aa00"/>
<circle cx="245.88" cy="217.85" r="1.4" fill="#00aa00"/>
<circle cx="252.57" cy="219.22" r="1.4" fill="#00aa00"/>
<circle cx="259.27" cy="217.31" r="1.4" fill="#00aa00"/>
<circle cx="265.96" cy="209.30" r="1.4" fill="#00aa00"/>
<circle cx="272.66" cy="202.52" r="1.4" fill="#00aa00"/>
<circle cx="279.35" cy="198.50" r="1.4" fill="#00aa00"/>
<circle cx="286.05" cy="199.58" r="1.4" fill="#00aa00"/>
<circle cx="292.75" cy="199.88" r="1.4" fill="#00aa00"/>
<circle cx="299.44" cy="202.40" r="1.4" fill="#00aa00"/>
<circle cx="306.14" cy="208.58" r="1.4" fill="#00aa00"/>
<circle cx="312.83" cy="216.44" r="1.4" fill="#00aa00"/>
<circle cx="319.53" cy="217.67" r="1.4" fill="#00aa00"/>
<circle cx="326.22" cy="216.26" r="1.4" fill="#00aa00"/>
<circle cx="332.92" cy="214.05" r="1.4" fill="#00aa00"/>
<circle cx="339.62" cy="217.16" r="1.4" fill="#00aa00"/>
<circle cx="346.31" cy="223.25" r="1.4" fill="#00aa00"/>
<circle cx="353.01" cy="228.05" r="1.4" fill="#00aa00"/>
<circle cx="359.70" cy="230.46" r="1.4" fill="#00aa00"/>
<circle cx="366.40" cy="230.69" r="1.4" fill="#00aa00"/>
<polyline points="205.70,232.98 212.40,232.71 219.09,229.94 225.79,223.37 232.48,217.32 239.18,215.60 245.88,218.31 252.57,220.29 259.27,217.53 265.96,207.85 272.66,199.75 279.35,194.95 286.05,196.24 292.75,196.60 299.44,199.61 306.14,206.99 312.83,216.28 319.53,218.05 326.22,216.02 332.92,212.84 339.62,217.32 346.31,224.41 353.01,230.08 359.70,232.91 366.40,233.19" fill="none" stroke="#e600e6" stroke-width="0.8"/>
<circle cx="205.70" cy="232.98" r="1.4" fill="#e600e6"/>
<circle cx="212.40" cy="232.71" r="1.4" fill="#e600e6"/>
<circle cx="219.09" cy="229.94" r="1.4" fill="#e600e6"/>
<circle cx="225.79" cy="223.37" r="1.4" fill="#e600e6"/>
<circle cx="232.48" cy="217.32" r="1.4" fill="#e600e6"/>
<circle cx="239.18" cy="215.60" r="1.4" fill="#e600e6"/>
<circle cx="245.88" cy="218.31" r="1.4" fill="#e600e6"/>
<circle cx="252.57" cy="220.29" r="1.4" fill="#e600e6"/>
<circle cx="259.27" cy="217.53" r="1.4" fill="#e600e6"/>
<circle cx="265.96" cy="207.85" r="1.4" fill="#e600e6"/>
<circle cx="272.66" cy="199.75" r="1.4" fill="#e600e6"/>
<circle cx="279.35" cy="194.95" r="1.4" fill="#e600e6"/>
<circle cx="286.05" cy="196.24" r="1.4" fill="#e600e6"/>
<circle cx="292.75" cy="196.60" r="1.4" fill="#e600e6"/>
<circle cx="299.44" cy="199.61" r="1.4" fill="#e600e6"/>
<circle cx="306.14" cy="206.99" r="1.4" fill="#e600e6"/>
<circle cx="312.83" cy="216.28" r="1.4" fill="#e600e6"/>
<circle cx="319.53" cy="218.05" r="1.4" fill="#e600e6"/>
<circle cx="326.22" cy="216.02" r="1.4" fill="#e600e6"/>
<circle cx="332.92" cy="212.84" r="1.4" fill="#e600e6"/>
<circle cx="339.62" cy="217.32" r="1.4" fill="#e600e6"/>
<circle cx="346.31" cy="224.41" r="1.4" fill="#e600e6"/>
<circle cx="353.01" cy="230.08" r="1.4" fill="#e600e6"/>
<circle cx="359.70" cy="232.91" r="1.4" fill="#e600e6"/>
<circle cx="366.40" cy="233.19" r="1.4" fill="#e600e6"/>
<polyline points="205.70,235.36 212.40,235.04 219.09,231.87 225.79,224.33 232.48,217.51 239.18,215.17 245.88,218.86 252.57,221.55 259.27,217.79 265.96,206.35 272.66,196.91 279.35,191.31 286.05,192.82 292.75,193.23 299.44,196.74 306.14,205.35 312.83,216.09 319.53,218.50 326.22,215.74 332.92,211.41 339.62,217.51 346.31,225.52 353.01,232.03 359.70,235.28 366.40,235.60" fill="none" stroke="#9600a8" stroke-width="0.8"/>
<circle cx="205.70" cy="235.36" r="1.4" fill="#9600a8"/>
<circle cx="212.40" cy="235.04" r="1.4" fill="#9600a8"/>
<circle cx="219.09" cy="231.87" r="1.4" fill="#9600a8"/>
<circle cx="225.79" cy="224.33" r="1.4" fill="#9600a8"/>
<circle cx="232.48" cy="217.51" r="1.4" fill="#9600a8"/>
<circle cx="239.18" cy="215.17" r="1.4" fill="#9600a8"/>
<circle cx="245.88" cy="218.86" r="1.4" fill="#9600a8"/>
<circle cx="252.57" cy="221.55" r="1.4" fill="#9600a8"/>
<circle cx="259.27" cy="217.79" r="1.4" fill="#9600a8"/>
<circle cx="265.96" cy="206.35" r="1.4" fill="#9600a8"/>
<circle cx="272.66" cy="196.91" r="1.4" fill="#9600a8"/>
<circle cx="279.35" cy="191.31" r="1.4" fill="#9600a8"/>
<circle cx="286.05" cy="192.82" r="1.4" fill="#9600a8"/>
<circle cx="292.75" cy="193.23" r="1.4" fill="#9600a8"/>
<circle cx="299.44" cy="196.74" r="1.4" fill="#9600a8"/>
<circle cx="306.14" cy="205.35" r="1.4" fill="#9600a8"/>
<circle cx="312.83" cy="216.09" r="1.4" fill="#9600a8"/>
<circle cx="319.53" cy="218.50" r="1.4" fill="#9600a8"/>
<circle cx="326.22" cy="215.74" r="1.4" fill="#9600a8"/>
<circle cx="332.92" cy="211.41" r="1.4" fill="#9600a8"/>
<circle cx="339.62" cy="217.51" r="1.4" fill="#9600a8"/>
<circle cx="346.31" cy="225.52" r="1.4" fill="#9600a8"/>
<circle cx="353.01" cy="232.03" r="1.4" fill="#9600a8"/>
<circle cx="359.70" cy="235.28" r="1.4" fill="#9600a8"/>
<circle cx="366.40" cy="235.60" r="1.4" fill="#9600a8"/>
<polyline points="205.70,238.47 212.40,238.10 219.09,234.39 225.79,225.60 232.48,217.73 239.18,214.67 245.88,219.49 252.57,223.00 259.27,218.10 265.96,205.23 272.66,194.76 279.35,188.56 286.05,190.22 292.75,190.69 299.44,194.58 306.14,204.11 312.83,215.87 319.53,219.02 326.22,215.41 332.92,209.76 339.62,217.73 346.31,226.99 353.01,234.58 359.70,238.38 366.40,238.75" fill="none" stroke="#ff7a00" stroke-width="0.8"/>
<circle cx="205.70" cy="238.47" r="1.4" fill="#ff7a00"/>
<circle cx="212.40" cy="238.10" r="1.4" fill="#ff7a00"/>
<circle cx="219.09" cy="234.39" r="1.4" fill="#ff7a00"/>
<circle cx="225.79" cy="225.60" r="1.4" fill="#ff7a00"/>
<circle cx="232.48" cy="217.73" r="1.4" fill="#ff7a00"/>
<circle cx="239.18" cy="214.67" r="1.4" fill="#ff7a00"/>
<circle cx="245.88" cy="219.49" r="1.4" fill="#ff7a00"/>
<circle cx="252.57" cy="223.00" r="1.4" fill="#ff7a00"/>
<circle cx="259.27" cy="218.10" r="1.4" fill="#ff7a00"/>
<circle cx="265.96" cy="205.23" r="1.4" fill="#ff7a00"/>
<circle cx="272.66" cy="194.76" r="1.4" fill="#ff7a00"/>
<circle cx="279.35" cy="188.56" r="1.4" fill="#ff7a00"/>
<circle cx="286.05" cy="190.22" r="1.4" fill="#ff7a00"/>
<circle cx="292.75" cy="190.69" r="1.4" fill="#ff7a00"/>
<circle cx="299.44" cy="194.58" r="1.4" fill="#ff7a00"/>
<circle cx="306.14" cy="204.11" r="1.4" fill="#ff7a00"/>
<circle cx="312.83" cy="215.87" r="1.4" fill="#ff7a00"/>
<circle cx="319.53" cy="219.02" r="1.4" fill="#ff7a00"/>
<circle cx="326.22" cy="215.41" r="1.4" fill="#ff7a00"/>
<circle cx="332.92" cy="209.76" r="1.4" fill="#ff7a00"/>
<circle cx="339.62" cy="217.73" r="1.4" fill="#ff7a00"/>
<circle cx="346.31" cy="226.99" r="1.4" fill="#ff7a00"/>
<circle cx="353.01" cy="234.58" r="1.4" fill="#ff7a00"/>
<circle cx="359.70" cy="238.38" r="1.4" fill="#ff7a00"/>
<circle cx="366.40" cy="238.75" r="1.4" fill="#ff7a00"/>
<rect x="205.70" y="170.50" width="160.70" height="92.60" fill="none" stroke="#3c3c3c" stroke-width="1.0"/>
<line x1="245.88" y1="263.10" x2="245.88" y2="260.60" stroke="#3c3c3c" stroke-width="1.0"/>
<line x1="245.88" y1="170.50" x2="245.88" y2="173.00" stroke="#3c3c3c" stroke-width="1.0"/>
<line x1="326.22" y1="263.10" x2="326.22" y2="260.60" stroke="#3c3c3c" stroke-width="1.0"/>
<line x1="326.22" y1="170.50" x2="326.22" y2="173.00" stroke="#3c3c3c" stroke-width="1.0"/>
<line x1="461.15" y1="170.50" x2="461.15" y2="263.10" stroke="#bdbdbd" stroke-width="1.2" stroke-dasharray="4 3"/>
<line x1="380.80" y1="216.80" x2="541.50" y2="216.80" stroke="#bdbdbd" stroke-width="1.2" stroke-dasharray="4 3"/>
<polyline points="380.80,216.80 387.50,218.50 394.19,219.61 400.89,220.18 407.58,220.23 414.28,220.15 420.98,219.52 427.67,218.33 434.37,216.80 441.06,216.80 447.76,216.80 454.45,216.80 461.15,216.80 467.85,215.55 474.54,214.80 481.24,214.25 487.93,214.11 494.63,214.23 501.32,214.66 508.02,215.77 514.72,216.80 521.41,216.80 528.11,216.80 534.80,216.80 541.50,216.80" fill="none" stroke="#ff0000" stroke-width="0.8"/>
<circle cx="380.80" cy="216.80" r="1.4" fill="#ff0000"/>
<circle cx="387.50" cy="218.50" r="1.4" fill="#ff0000"/>
<circle cx="394.19" cy="219.61" r="1.4" fill="#ff0000"/>
<circle cx="400.89" cy="220.18" r="1.4" fill="#ff0000"/>
<circle cx="407.58" cy="220.23" r="1.4" fill="#ff0000"/>
<circle cx="414.28" cy="220.15" r="1.4" fill="#ff0000"/>
<circle cx="420.98" cy="219.52" r="1.4" fill="#ff0000"/>
<circle cx="427.67" cy="218.33" r="1.4" fill="#ff0000"/>
<circle cx="434.37" cy="216.80" r="1.4" fill="#ff0000"/>
<circle cx="441.06" cy="216.80" r="1.4" fill="#ff0000"/>
<circle cx="447.76" cy="216.80" r="1.4" fill="#ff0000"/>
<circle cx="454.45" cy="216.80" r="1.4" fill="#ff0000"/>
<circle cx="461.15" cy="216.80" r="1.4" fill="#ff0000"/>
<circle cx="467.85" cy="215.55" r="1.4" fill="#ff0000"/>
<circle cx="474.54" cy="214.80" r="1.4" fill="#ff0000"/>
<circle cx="481.24" cy="214.25" r="1.4" fill="#ff0000"/>
<circle cx="487.93" cy="214.11" r="1.4" fill="#ff0000"/>
<circle cx="494.63" cy="214.23" r="1.4" fill="#ff0000"/>
<circle cx="501.32" cy="214.66" r="1.4" fill="#ff0000"/>
<circle cx="508.02" cy="215.77" r="1.4" fill="#ff0000"/>
<circle cx="514.72" cy="216.80" r="1.4" fill="#ff0000"/>
<circle cx="521.41" cy="216.80" r="1.4" fill="#ff0000"/>
<circle cx="528.11" cy="216.80" r="1.4" fill="#ff0000"/>
<circle cx="534.80" cy="216.80" r="1.4" fill="#ff0000"/>
<circle cx="541.50" cy="216.80" r="1.4" fill="#ff0000"/>
<polyline points="380.80,216.80 387.50,219.33 394.19,220.98 400.89,221.82 407.58,221.89 414.28,221.78 420.98,220.85 427.67,219.08 434.37,216.83 441.06,216.76 447.76,216.84 454.45,216.89 461.15,216.80 467.85,214.99 474.54,213.90 481.24,213.10 487.93,212.91 494.63,213.08 501.32,213.70 508.02,215.31 514.72,216.81 521.41,216.88 528.11,216.78 534.80,216.70 541.50,216.79" fill="none" stroke="#b40000" stroke-width="0.8"/>
<circle cx="380.80" cy="216.80" r="1.4" fill="#b40000"/>
<circle cx="387.50" cy="219.33" r="1.4" fill="#b40000"/>
<circle cx="394.19" cy="220.98" r="1.4" fill="#b40000"/>
<circle cx="400.89" cy="221.82" r="1.4" fill="#b40000"/>
<circle cx="407.58" cy="221.89" r="1.4" fill="#b40000"/>
<circle cx="414.28" cy="221.78" r="1.4" fill="#b40000"/>
<circle cx="420.98" cy="220.85" r="1.4" fill="#b40000"/>
<circle cx="427.67" cy="219.08" r="1.4" fill="#b40000"/>
<circle cx="434.37" cy="216.83" r="1.4" fill="#b40000"/>
<circle cx="441.06" cy="216.76" r="1.4" fill="#b40000"/>
<circle cx="447.76" cy="216.84" r="1.4" fill="#b40000"/>
<circle cx="454.45" cy="216.89" r="1.4" fill="#b40000"/>
<circle cx="461.15" cy="216.80" r="1.4" fill="#b40000"/>
<circle cx="467.85" cy="214.99" r="1.4" fill="#b40000"/>
<circle cx="474.54" cy="213.90" r="1.4" fill="#b40000"/>
<circle cx="481.24" cy="213.10" r="1.4" fill="#b40000"/>
<circle cx="487.93" cy="212.91" r="1.4" fill="#b40000"/>
<circle cx="494.63" cy="213.08" r="1.4" fill="#b40000"/>
<circle cx="501.32" cy="213.70" r="1.4" fill="#b40000"/>
<circle cx="508.02" cy="215.31" r="1.4" fill="#b40000"/>
<circle cx="514.72" cy="216.81" r="1.4" fill="#b40000"/>
<circle cx="521.41" cy="216.88" r="1.4" fill="#b40000"/>
<circle cx="528.11" cy="216.78" r="1.4" fill="#b40000"/>
<circle cx="534.80" cy="216.70" r="1.4" fill="#b40000"/>
<circle cx="541.50" cy="216.79" r="1.4" fill="#b40000"/>
<polyline points="380.80,216.80 387.50,220.66 394.19,223.19 400.89,224.46 407.58,224.58 414.28,224.40 420.98,222.98 427.67,220.28 434.37,216.92 441.06,216.63 447.76,216.97 454.45,217.15 461.15,216.80 467.85,212.54 474.54,209.96 481.24,208.08 487.93,207.63 494.63,208.03 501.32,209.48 508.02,213.30 514.72,216.82 521.41,217.10 528.11,216.72 534.80,216.39 541.50,216.78" fill="none" stroke="#0000e6" stroke-width="0.8"/>
<circle cx="380.80" cy="216.80" r="1.4" fill="#0000e6"/>
<circle cx="387.50" cy="220.66" r="1.4" fill="#0000e6"/>
<circle cx="394.19" cy="223.19" r="1.4" fill="#0000e6"/>
<circle cx="400.89" cy="224.46" r="1.4" fill="#0000e6"/>
<circle cx="407.58" cy="224.58" r="1.4" fill="#0000e6"/>
<circle cx="414.28" cy="224.40" r="1.4" fill="#0000e6"/>
<circle cx="420.98" cy="222.98" r="1.4" fill="#0000e6"/>
<circle cx="427.67" cy="220.28" r="1.4" fill="#0000e6"/>
<circle cx="434.37" cy="216.92" r="1.4" fill="#0000e6"/>
<circle cx="441.06" cy="216.63" r="1.4" fill="#0000e6"/>
<circle cx="447.76" cy="216.97" r="1.4" fill="#0000e6"/>
<circle cx="454.45" cy="217.15" r="1.4" fill="#0000e6"/>
<circle cx="461.15" cy="216.80" r="1.4" fill="#0000e6"/>
<circle cx="467.85" cy="212.54" r="1.4" fill="#0000e6"/>
<circle cx="474.54" cy="209.96" r="1.4" fill="#0000e6"/>
<circle cx="481.24" cy="208.08" r="1.4" fill="#0000e6"/>
<circle cx="487.93" cy="207.63" r="1.4" fill="#0000e6"/>
<circle cx="494.63" cy="208.03" r="1.4" fill="#0000e6"/>
<circle cx="501.32" cy="209.48" r="1.4" fill="#0000e6"/>
<circle cx="508.02" cy="213.30" r="1.4" fill="#0000e6"/>
<circle cx="514.72" cy="216.82" r="1.4" fill="#0000e6"/>
<circle cx="521.41" cy="217.10" r="1.4" fill="#0000e6"/>
<circle cx="528.11" cy="216.72" r="1.4" fill="#0000e6"/>
<circle cx="534.80" cy="216.39" r="1.4" fill="#0000e6"/>
<circle cx="541.50" cy="216.78" r="1.4" fill="#0000e6"/>
<polyline points="380.80,216.80 387.50,221.63 394.19,224.78 400.89,226.38 407.58,226.52 414.28,226.31 420.98,224.53 427.67,221.15 434.37,217.06 441.06,216.41 447.76,217.19 454.45,217.58 461.15,216.80 467.85,211.16 474.54,207.75 481.24,205.26 487.93,204.67 494.63,205.19 501.32,207.12 508.02,212.16 514.72,216.85 521.41,217.48 528.11,216.63 534.80,215.89 541.50,216.75" fill="none" stroke="#0000a0" stroke-width="0.8"/>
<circle cx="380.80" cy="216.80" r="1.4" fill="#0000a0"/>
<circle cx="387.50" cy="221.63" r="1.4" fill="#0000a0"/>
<circle cx="394.19" cy="224.78" r="1.4" fill="#0000a0"/>
<circle cx="400.89" cy="226.38" r="1.4" fill="#0000a0"/>
<circle cx="407.58" cy="226.52" r="1.4" fill="#0000a0"/>
<circle cx="414.28" cy="226.31" r="1.4" fill="#0000a0"/>
<circle cx="420.98" cy="224.53" r="1.4" fill="#0000a0"/>
<circle cx="427.67" cy="221.15" r="1.4" fill="#0000a0"/>
<circle cx="434.37" cy="217.06" r="1.4" fill="#0000a0"/>
<circle cx="441.06" cy="216.41" r="1.4" fill="#0000a0"/>
<circle cx="447.76" cy="217.19" r="1.4" fill="#0000a0"/>
<circle cx="454.45" cy="217.58" r="1.4" fill="#0000a0"/>
<circle cx="461.15" cy="216.80" r="1.4" fill="#0000a0"/>
<circle cx="467.85" cy="211.16" r="1.4" fill="#0000a0"/>
<circle cx="474.54" cy="207.75" r="1.4" fill="#0000a0"/>
<circle cx="481.24" cy="205.26" r="1.4" fill="#0000a0"/>
<circle cx="487.93" cy="204.67" r="1.4" fill="#0000a0"/>
<circle cx="494.63" cy="205.19" r="1.4" fill="#0000a0"/>
<circle cx="501.32" cy="207.12" r="1.4" fill="#0000a0"/>
<circle cx="508.02" cy="212.16" r="1.4" fill="#0000a0"/>
<circle cx="514.72" cy="216.85" r="1.4" fill="#0000a0"/>
<circle cx="521.41" cy="217.48" r="1.4" fill="#0000a0"/>
<circle cx="528.11" cy="216.63" r="1.4" fill="#0000a0"/>
<circle cx="534.80" cy="215.89" r="1.4" fill="#0000a0"/>
<circle cx="541.50" cy="216.75" r="1.4" fill="#0000a0"/>
<polyline points="380.80,216.80 387.50,222.73 394.19,226.61 400.89,228.57 407.58,228.75 414.28,228.48 420.98,226.29 427.67,222.15 434.37,217.26 441.06,216.11 447.76,217.49 454.45,218.19 461.15,216.80 467.85,209.74 474.54,205.47 481.24,202.36 487.93,201.61 494.63,202.26 501.32,204.68 508.02,210.99 514.72,216.89 521.41,218.00 528.11,216.50 534.80,215.18 541.50,216.71" fill="none" stroke="#00dd00" stroke-width="0.8"/>
<circle cx="380.80" cy="216.80" r="1.4" fill="#00dd00"/>
<circle cx="387.50" cy="222.73" r="1.4" fill="#00dd00"/>
<circle cx="394.19" cy="226.61" r="1.4" fill="#00dd00"/>
<circle cx="400.89" cy="228.57" r="1.4" fill="#00dd00"/>
<circle cx="407.58" cy="228.75" r="1.4" fill="#00dd00"/>
<circle cx="414.28" cy="228.48" r="1.4" fill="#00dd00"/>
<circle cx="420.98" cy="226.29" r="1.4" fill="#00dd00"/>
<circle cx="427.67" cy="222.15" r="1.4" fill="#00dd00"/>
<circle cx="434.37" cy="217.26" r="1.4" fill="#00dd00"/>
<circle cx="441.06" cy="216.11" r="1.4" fill="#00dd00"/>
<circle cx="447.76" cy="217.49" r="1.4" fill="#00dd00"/>
<circle cx="454.45" cy="218.19" r="1.4" fill="#00dd00"/>
<circle cx="461.15" cy="216.80" r="1.4" fill="#00dd00"/>
<circle cx="467.85" cy="209.74" r="1.4" fill="#00dd00"/>
<circle cx="474.54" cy="205.47" r="1.4" fill="#00dd00"/>
<circle cx="481.24" cy="202.36" r="1.4" fill="#00dd00"/>
<circle cx="487.93" cy="201.61" r="1.4" fill="#00dd00"/>
<circle cx="494.63" cy="202.26" r="1.4" fill="#00dd00"/>
<circle cx="501.32" cy="204.68" r="1.4" fill="#00dd00"/>
<circle cx="508.02" cy="210.99" r="1.4" fill="#00dd00"/>
<circle cx="514.72" cy="216.89" r="1.4" fill="#00dd00"/>
<circle cx="521.41" cy="218.00" r="1.4" fill="#00dd00"/>
<circle cx="528.11" cy="216.50" r="1.4" fill="#00dd00"/>
<circle cx="534.80" cy="215.18" r="1.4" fill="#00dd00"/>
<circle cx="541.50" cy="216.71" r="1.4" fill="#00dd00"/>
<polyline points="380.80,216.80 387.50,224.15 394.19,228.96 400.89,231.39 407.58,231.62 414.28,231.28 420.98,228.58 427.67,223.43 434.37,217.52 441.06,215.71 447.76,217.89 454.45,218.97 461.15,216.80 467.85,207.46 474.54,201.81 481.24,197.69 487.93,196.71 494.63,197.57 501.32,200.76 508.02,209.12 514.72,216.94 521.41,218.68 528.11,216.33 534.80,214.27 541.50,216.66" fill="none" stroke="#00aa00" stroke-width="0.8"/>
<circle cx="380.80" cy="216.80" r="1.4" fill="#00aa00"/>
<circle cx="387.50" cy="224.15" r="1.4" fill="#00aa00"/>
<circle cx="394.19" cy="228.96" r="1.4" fill="#00aa00"/>
<circle cx="400.89" cy="231.39" r="1.4" fill="#00aa00"/>
<circle cx="407.58" cy="231.62" r="1.4" fill="#00aa00"/>
<circle cx="414.28" cy="231.28" r="1.4" fill="#00aa00"/>
<circle cx="420.98" cy="228.58" r="1.4" fill="#00aa00"/>
<circle cx="427.67" cy="223.43" r="1.4" fill="#00aa00"/>
<circle cx="434.37" cy="217.52" r="1.4" fill="#00aa00"/>
<circle cx="441.06" cy="215.71" r="1.4" fill="#00aa00"/>
<circle cx="447.76" cy="217.89" r="1.4" fill="#00aa00"/>
<circle cx="454.45" cy="218.97" r="1.4" fill="#00aa00"/>
<circle cx="461.15" cy="216.80" r="1.4" fill="#00aa00"/>
<circle cx="467.85" cy="207.46" r="1.4" fill="#00aa00"/>
<circle cx="474.54" cy="201.81" r="1.4" fill="#00aa00"/>
<circle cx="481.24" cy="197.69" r="1.4" fill="#00aa00"/>
<circle cx="487.93" cy="196.71" r="1.4" fill="#00aa00"/>
<circle cx="494.63" cy="197.57" r="1.4" fill="#00aa00"/>
<circle cx="501.32" cy="200.76" r="1.4" fill="#00aa00"/>
<circle cx="508.02" cy="209.12" r="1.4" fill="#00aa00"/>
<circle cx="514.72" cy="216.94" r="1.4" fill="#00aa00"/>
<circle cx="521.41" cy="218.68" r="1.4" fill="#00aa00"/>
<circle cx="528.11" cy="216.33" r="1.4" fill="#00aa00"/>
<circle cx="534.80" cy="214.27" r="1.4" fill="#00aa00"/>
<circle cx="541.50" cy="216.66" r="1.4" fill="#00aa00"/>
<polyline points="380.80,216.80 387.50,225.94 394.19,231.93 400.89,234.95 407.58,235.23 414.28,234.81 420.98,231.45 427.67,225.05 434.37,217.84 441.06,215.24 447.76,218.36 454.45,219.93 461.15,216.80 467.85,206.13 474.54,199.66 481.24,194.96 487.93,193.84 494.63,194.82 501.32,198.47 508.02,208.02 514.72,217.01 521.41,219.51 528.11,216.12 534.80,213.15 541.50,216.59" fill="none" stroke="#e600e6" stroke-width="0.8"/>
<circle cx="380.80" cy="216.80" r="1.4" fill="#e600e6"/>
<circle cx="387.50" cy="225.94" r="1.4" fill="#e600e6"/>
<circle cx="394.19" cy="231.93" r="1.4" fill="#e600e6"/>
<circle cx="400.89" cy="234.95" r="1.4" fill="#e600e6"/>
<circle cx="407.58" cy="235.23" r="1.4" fill="#e600e6"/>
<circle cx="414.28" cy="234.81" r="1.4" fill="#e600e6"/>
<circle cx="420.98" cy="231.45" r="1.4" fill="#e600e6"/>
<circle cx="427.67" cy="225.05" r="1.4" fill="#e600e6"/>
<circle cx="434.37" cy="217.84" r="1.4" fill="#e600e6"/>
<circle cx="441.06" cy="215.24" r="1.4" fill="#e600e6"/>
<circle cx="447.76" cy="218.36" r="1.4" fill="#e600e6"/>
<circle cx="454.45" cy="219.93" r="1.4" fill="#e600e6"/>
<circle cx="461.15" cy="216.80" r="1.4" fill="#e600e6"/>
<circle cx="467.85" cy="206.13" r="1.4" fill="#e600e6"/>
<circle cx="474.54" cy="199.66" r="1.4" fill="#e600e6"/>
<circle cx="481.24" cy="194.96" r="1.4" fill="#e600e6"/>
<circle cx="487.93" cy="193.84" r="1.4" fill="#e600e6"/>
<circle cx="494.63" cy="194.82" r="1.4" fill="#e600e6"/>
<circle cx="501.32" cy="198.47" r="1.4" fill="#e600e6"/>
<circle cx="508.02" cy="208.02" r="1.4" fill="#e600e6"/>
<circle cx="514.72" cy="217.01" r="1.4" fill="#e600e6"/>
<circle cx="521.41" cy="219.51" r="1.4" fill="#e600e6"/>
<circle cx="528.11" cy="216.12" r="1.4" fill="#e600e6"/>
<circle cx="534.80" cy="213.15" r="1.4" fill="#e600e6"/>
<circle cx="541.50" cy="216.59" r="1.4" fill="#e600e6"/>
<polyline points="380.80,216.80 387.50,227.14 394.19,233.90 400.89,237.32 407.58,237.64 414.28,237.17 420.98,233.36 427.67,226.13 434.37,218.22 441.06,214.67 447.76,218.93 454.45,221.05 461.15,216.80 467.85,204.49 474.54,197.04 481.24,191.61 487.93,190.32 494.63,191.45 501.32,195.66 508.02,206.68 514.72,217.08 521.41,220.49 528.11,215.88 534.80,211.84 541.50,216.52" fill="none" stroke="#9600a8" stroke-width="0.8"/>
<circle cx="380.80" cy="216.80" r="1.4" fill="#9600a8"/>
<circle cx="387.50" cy="227.14" r="1.4" fill="#9600a8"/>
<circle cx="394.19" cy="233.90" r="1.4" fill="#9600a8"/>
<circle cx="400.89" cy="237.32" r="1.4" fill="#9600a8"/>
<circle cx="407.58" cy="237.64" r="1.4" fill="#9600a8"/>
<circle cx="414.28" cy="237.17" r="1.4" fill="#9600a8"/>
<circle cx="420.98" cy="233.36" r="1.4" fill="#9600a8"/>
<circle cx="427.67" cy="226.13" r="1.4" fill="#9600a8"/>
<circle cx="434.37" cy="218.22" r="1.4" fill="#9600a8"/>
<circle cx="441.06" cy="214.67" r="1.4" fill="#9600a8"/>
<circle cx="447.76" cy="218.93" r="1.4" fill="#9600a8"/>
<circle cx="454.45" cy="221.05" r="1.4" fill="#9600a8"/>
<circle cx="461.15" cy="216.80" r="1.4" fill="#9600a8"/>
<circle cx="467.85" cy="204.49" r="1.4" fill="#9600a8"/>
<circle cx="474.54" cy="197.04" r="1.4" fill="#9600a8"/>
<circle cx="481.24" cy="191.61" r="1.4" fill="#9600a8"/>
<circle cx="487.93" cy="190.32" r="1.4" fill="#9600a8"/>
<circle cx="494.63" cy="191.45" r="1.4" fill="#9600a8"/>
<circle cx="501.32" cy="195.66" r="1.4" fill="#9600a8"/>
<circle cx="508.02" cy="206.68" r="1.4" fill="#9600a8"/>
<circle cx="514.72" cy="217.08" r="1.4" fill="#9600a8"/>
<circle cx="521.41" cy="220.49" r="1.4" fill="#9600a8"/>
<circle cx="528.11" cy="215.88" r="1.4" fill="#9600a8"/>
<circle cx="534.80" cy="211.84" r="1.4" fill="#9600a8"/>
<circle cx="541.50" cy="216.52" r="1.4" fill="#9600a8"/>
<polyline points="380.80,216.80 387.50,229.12 394.19,237.17 400.89,241.25 407.58,241.62 414.28,241.06 420.98,236.52 427.67,227.91 434.37,218.65 441.06,214.02 447.76,219.58 454.45,222.36 461.15,216.80 467.85,202.72 474.54,194.21 481.24,188.00 487.93,186.52 494.63,187.82 501.32,192.63 508.02,205.23 514.72,217.17 521.41,221.62 528.11,215.60 534.80,210.32 541.50,216.43" fill="none" stroke="#ff7a00" stroke-width="0.8"/>
<circle cx="380.80" cy="216.80" r="1.4" fill="#ff7a00"/>
<circle cx="387.50" cy="229.12" r="1.4" fill="#ff7a00"/>
<circle cx="394.19" cy="237.17" r="1.4" fill="#ff7a00"/>
<circle cx="400.89" cy="241.25" r="1.4" fill="#ff7a00"/>
<circle cx="407.58" cy="241.62" r="1.4" fill="#ff7a00"/>
<circle cx="414.28" cy="241.06" r="1.4" fill="#ff7a00"/>
<circle cx="420.98" cy="236.52" r="1.4" fill="#ff7a00"/>
<circle cx="427.67" cy="227.91" r="1.4" fill="#ff7a00"/>
<circle cx="434.37" cy="218.65" r="1.4" fill="#ff7a00"/>
<circle cx="441.06" cy="214.02" r="1.4" fill="#ff7a00"/>
<circle cx="447.76" cy="219.58" r="1.4" fill="#ff7a00"/>
<circle cx="454.45" cy="222.36" r="1.4" fill="#ff7a00"/>
<circle cx="461.15" cy="216.80" r="1.4" fill="#ff7a00"/>
<circle cx="467.85" cy="202.72" r="1.4" fill="#ff7a00"/>
<circle cx="474.54" cy="194.21" r="1.4" fill="#ff7a00"/>
<circle cx="481.24" cy="188.00" r="1.4" fill="#ff7a00"/>
<circle cx="487.93" cy="186.52" r="1.4" fill="#ff7a00"/>
<circle cx="494.63" cy="187.82" r="1.4" fill="#ff7a00"/>
<circle cx="501.32" cy="192.63" r="1.4" fill="#ff7a00"/>
<circle cx="508.02" cy="205.23" r="1.4" fill="#ff7a00"/>
<circle cx="514.72" cy="217.17" r="1.4" fill="#ff7a00"/>
<circle cx="521.41" cy="221.62" r="1.4" fill="#ff7a00"/>
<circle cx="528.11" cy="215.60" r="1.4" fill="#ff7a00"/>
<circle cx="534.80" cy="210.32" r="1.4" fill="#ff7a00"/>
<circle cx="541.50" cy="216.43" r="1.4" fill="#ff7a00"/>
<rect x="380.80" y="170.50" width="160.70" height="92.60" fill="none" stroke="#3c3c3c" stroke-width="1.0"/>
<line x1="420.98" y1="263.10" x2="420.98" y2="260.60" stroke="#3c3c3c" stroke-width="1.0"/>
<line x1="420.98" y1="170.50" x2="420.98" y2="173.00" stroke="#3c3c3c" stroke-width="1.0"/>
<line x1="501.32" y1="263.10" x2="501.32" y2="260.60" stroke="#3c3c3c" stroke-width="1.0"/>
<line x1="501.32" y1="170.50" x2="501.32" y2="173.00" stroke="#3c3c3c" stroke-width="1.0"/>
<text x="2.61" y="13.66" font-size="14.3" stroke="#111" stroke-width="0.15">(a)</text>
<text x="2.61" y="168.62" font-size="14.3" stroke="#111" stroke-width="0.15">(b)</text>
<text x="34.91" y="25.18" font-size="13.6" stroke="#111" stroke-width="0.15">(i)</text>
<text x="210.88" y="25.14" font-size="13.6" stroke="#111" stroke-width="0.15">(ii)</text>
<text x="384.19" y="25.11" font-size="13.6" stroke="#111" stroke-width="0.15">(iii)</text>
<text x="35.23" y="182.11" font-size="13.6" stroke="#111" stroke-width="0.15">(i)</text>
<text x="210.86" y="182.11" font-size="13.6" stroke="#111" stroke-width="0.15">(ii)</text>
<text x="384.12" y="182.11" font-size="13.6" stroke="#111" stroke-width="0.15">(iii)</text>
<text x="22.58" y="19.29" font-size="11" stroke="#111" stroke-width="0.15">5</text>
<text x="22.54" y="66.30" font-size="11" stroke="#111" stroke-width="0.15">0</text>
<text x="16.15" y="113.34" font-size="11" stroke="#111" stroke-width="0.15">−5</text>
<text x="22.86" y="173.01" font-size="11" stroke="#111" stroke-width="0.15">5</text>
<text x="22.82" y="219.26" font-size="11" stroke="#111" stroke-width="0.15">0</text>
<text x="16.15" y="266.35" font-size="11" stroke="#111" stroke-width="0.15">−5</text>
<text x="23.45" y="121.15" font-size="11" letter-spacing="-0.8" stroke="#111" stroke-width="0.15">−10</text>
<text x="63.71" y="121.15" font-size="11" stroke="#111" stroke-width="0.15">−5</text>
<text x="107.89" y="121.15" font-size="11" stroke="#111" stroke-width="0.15">0</text>
<text x="148.13" y="121.15" font-size="11" stroke="#111" stroke-width="0.15">5</text>
<text x="185.10" y="121.15" font-size="11" letter-spacing="-0.8" stroke="#111" stroke-width="0.15">10</text>
<text x="203.05" y="121.15" font-size="11" letter-spacing="-0.8" stroke="#111" stroke-width="0.15">−10</text>
<text x="240.10" y="121.15" font-size="11" stroke="#111" stroke-width="0.15">−5</text>
<text x="282.89" y="121.15" font-size="11" stroke="#111" stroke-width="0.15">0</text>
<text x="323.36" y="121.15" font-size="11" stroke="#111" stroke-width="0.15">5</text>
<text x="360.10" y="121.15" font-size="11" letter-spacing="-0.8" stroke="#111" stroke-width="0.15">10</text>
<text x="377.21" y="121.15" font-size="11" letter-spacing="-0.8" stroke="#111" stroke-width="0.15">−10</text>
<text x="416.15" y="121.15" font-size="11" stroke="#111" stroke-width="0.15">−5</text>
<text x="458.62" y="121.15" font-size="11" stroke="#111" stroke-width="0.15">0</text>
<text x="498.62" y="121.15" font-size="11" stroke="#111" stroke-width="0.15">5</text>
<text x="535.92" y="121.15" font-size="11" letter-spacing="-0.8" stroke="#111" stroke-width="0.15">10</text>
<text x="65.53" y="133.32" font-size="11" letter-spacing="0.15" stroke="#111" stroke-width="0.15">Wind velocity [m/s]</text>
<text x="241.03" y="133.32" font-size="11" letter-spacing="0.15" stroke="#111" stroke-width="0.15">Wind velocity [m/s]</text>
<text x="416.00" y="133.32" font-size="11" letter-spacing="0.15" stroke="#111" stroke-width="0.15">Wind velocity [m/s]</text>
<text x="87.47" y="291.69" font-size="11" letter-spacing="0.1" stroke="#111" stroke-width="0.15"><tspan font-style="italic">&#952;</tspan> [degree]</text>
<text x="263.05" y="291.69" font-size="11" letter-spacing="0.1" stroke="#111" stroke-width="0.15"><tspan font-style="italic">&#952;</tspan> [degree]</text>
<text x="438.05" y="291.69" font-size="11" letter-spacing="0.1" stroke="#111" stroke-width="0.15"><tspan font-style="italic">&#952;</tspan> [degree]</text>
<text transform="translate(40.35,163.33) scale(1,1.1)" font-size="13.5" letter-spacing="-0.5" stroke="#111" stroke-width="0.15">2 m/s</text>
<text transform="translate(84.13,163.33) scale(1,1.1)" font-size="13.5" letter-spacing="-0.5" stroke="#111" stroke-width="0.15">3 m/s</text>
<text transform="translate(127.98,163.33) scale(1,1.1)" font-size="13.5" letter-spacing="-0.5" stroke="#111" stroke-width="0.15">4 m/s</text>
<text transform="translate(172.19,163.33) scale(1,1.1)" font-size="13.5" letter-spacing="-0.5" stroke="#111" stroke-width="0.15">5 m/s</text>
<text transform="translate(217.82,163.33) scale(1,1.1)" font-size="13.5" letter-spacing="-0.5" stroke="#111" stroke-width="0.15">6 m/s</text>
<text transform="translate(262.95,163.33) scale(1,1.1)" font-size="13.5" letter-spacing="-0.5" stroke="#111" stroke-width="0.15">7 m/s</text>
<text transform="translate(305.20,163.33) scale(1,1.1)" font-size="13.5" letter-spacing="-0.5" stroke="#111" stroke-width="0.15">8 m/s</text>
<text transform="translate(347.64,163.33) scale(1,1.1)" font-size="13.5" letter-spacing="-0.5" stroke="#111" stroke-width="0.15">9 m/s</text>
<text transform="translate(392.97,163.33) scale(1,1.1)" font-size="13.5" letter-spacing="-0.5" stroke="#111" stroke-width="0.15">10 m/s</text>
<text transform="translate(38.56,275.21) rotate(45)" font-size="11.5" letter-spacing="-1.3" text-anchor="middle" dominant-baseline="central" stroke="#111" stroke-width="0.15">−180</text>
<text transform="translate(70.76,272.32) rotate(45)" font-size="11.5" letter-spacing="-1.3" text-anchor="middle" dominant-baseline="central" stroke="#111" stroke-width="0.15">−90</text>
<text transform="translate(111.84,272.70) rotate(45)" font-size="11.5" letter-spacing="-1.3" text-anchor="middle" dominant-baseline="central" stroke="#111" stroke-width="0.15">0</text>
<text transform="translate(150.54,272.47) rotate(45)" font-size="11.5" letter-spacing="-1.3" text-anchor="middle" dominant-baseline="central" stroke="#111" stroke-width="0.15">90</text>
<text transform="translate(187.52,272.17) rotate(45)" font-size="11.5" letter-spacing="-1.3" text-anchor="middle" dominant-baseline="central" stroke="#111" stroke-width="0.15">180</text>
<text transform="translate(213.58,275.40) rotate(45)" font-size="11.5" letter-spacing="-1.3" text-anchor="middle" dominant-baseline="central" stroke="#111" stroke-width="0.15">−180</text>
<text transform="translate(246.08,272.58) rotate(45)" font-size="11.5" letter-spacing="-1.3" text-anchor="middle" dominant-baseline="central" stroke="#111" stroke-width="0.15">−90</text>
<text transform="translate(286.76,272.65) rotate(45)" font-size="11.5" letter-spacing="-1.3" text-anchor="middle" dominant-baseline="central" stroke="#111" stroke-width="0.15">0</text>
<text transform="translate(326.26,273.26) rotate(45)" font-size="11.5" letter-spacing="-1.3" text-anchor="middle" dominant-baseline="central" stroke="#111" stroke-width="0.15">90</text>
<text transform="translate(363.02,273.28) rotate(45)" font-size="11.5" letter-spacing="-1.3" text-anchor="middle" dominant-baseline="central" stroke="#111" stroke-width="0.15">180</text>
<text transform="translate(388.90,275.71) rotate(45)" font-size="11.5" letter-spacing="-1.3" text-anchor="middle" dominant-baseline="central" stroke="#111" stroke-width="0.15">−180</text>
<text transform="translate(422.47,272.95) rotate(45)" font-size="11.5" letter-spacing="-1.3" text-anchor="middle" dominant-baseline="central" stroke="#111" stroke-width="0.15">−90</text>
<text transform="translate(462.00,272.15) rotate(45)" font-size="11.5" letter-spacing="-1.3" text-anchor="middle" dominant-baseline="central" stroke="#111" stroke-width="0.15">0</text>
<text transform="translate(501.15,273.50) rotate(45)" font-size="11.5" letter-spacing="-1.3" text-anchor="middle" dominant-baseline="central" stroke="#111" stroke-width="0.15">90</text>
<text transform="translate(536.50,273.65) rotate(45)" font-size="11.5" letter-spacing="-1.3" text-anchor="middle" dominant-baseline="central" stroke="#111" stroke-width="0.15">180</text>
<text transform="translate(16.43,63.58) rotate(-90) scale(1.23,1)" font-size="8.8" text-anchor="middle" stroke="#111" stroke-width="0.08">&#916;<tspan font-style="italic">R</tspan>/<tspan font-style="italic">R</tspan> [&#215;10<tspan font-size="5.8" dy="-3.2">&#8722;2</tspan><tspan dy="3.2">]</tspan></text>
<text transform="translate(16.43,218.70) rotate(-90) scale(1.23,1)" font-size="8.8" text-anchor="middle" stroke="#111" stroke-width="0.08">&#916;<tspan font-style="italic">R</tspan>/<tspan font-style="italic">R</tspan> [&#215;10<tspan font-size="5.8" dy="-3.2">&#8722;2</tspan><tspan dy="3.2">]</tspan></text>
<text transform="translate(58.60,100.70) scale(1,1.12)" font-size="11" stroke="#111" stroke-width="0.15">Inlet1</text>
<text transform="translate(99.70,100.70) scale(1,1.12)" font-size="11" stroke="#111" stroke-width="0.15">Inlet2</text>
<text transform="translate(142.30,100.70) scale(1,1.12)" font-size="11" stroke="#111" stroke-width="0.15">Inlet3</text>
</svg></body></html>
